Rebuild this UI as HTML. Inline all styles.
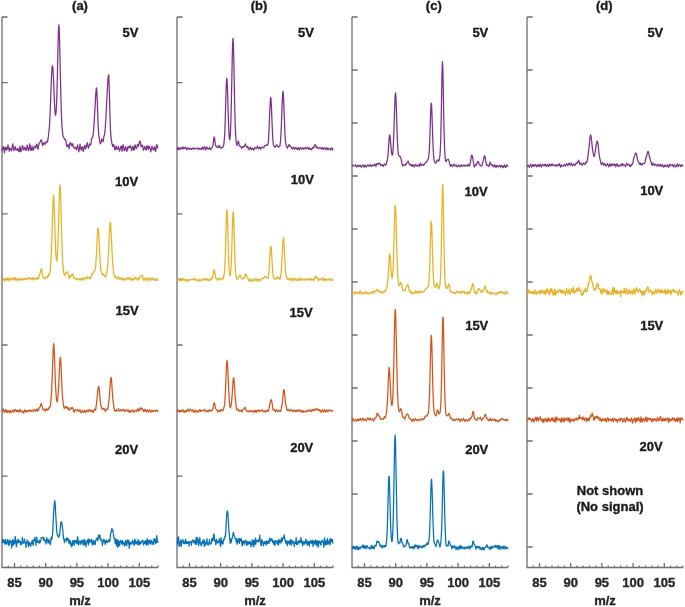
<!DOCTYPE html><html><head><meta charset="utf-8"><style>html,body{margin:0;padding:0;background:#fff;}svg{display:block;}text{font-family:"Liberation Sans",Arial,sans-serif;font-weight:bold;stroke-width:0.35px;paint-order:stroke;}</style></head><body>
<svg width="685" height="607" viewBox="0 0 685 607">
<rect width="685" height="607" fill="#fff"/>
<path d="M2.0 17.0V567.5H158.0 M2.0 17.00h5.6 M2.0 82.60h5.6 M2.0 148.20h5.6 M2.0 213.80h5.6 M2.0 279.40h5.6 M2.0 345.00h5.6 M2.0 410.60h5.6 M2.0 476.20h5.6 M2.0 541.80h5.6 M8.24 567.5v-2.0 M14.48 567.5v-4.6 M20.72 567.5v-2.0 M26.96 567.5v-2.0 M33.20 567.5v-2.0 M39.44 567.5v-2.0 M45.68 567.5v-4.6 M51.92 567.5v-2.0 M58.16 567.5v-2.0 M64.40 567.5v-2.0 M70.64 567.5v-2.0 M76.88 567.5v-4.6 M83.12 567.5v-2.0 M89.36 567.5v-2.0 M95.60 567.5v-2.0 M101.84 567.5v-2.0 M108.08 567.5v-4.6 M114.32 567.5v-2.0 M120.56 567.5v-2.0 M126.80 567.5v-2.0 M133.04 567.5v-2.0 M139.28 567.5v-4.6 M145.52 567.5v-2.0 M151.76 567.5v-2.0 M158.00 567.5v-2.0" fill="none" stroke="#6e6e6e" stroke-width="1.3"/>
<text x="14.48" y="587.3" font-size="13" text-anchor="middle" fill="#262626" stroke="#262626">85</text>
<text x="45.68" y="587.3" font-size="13" text-anchor="middle" fill="#262626" stroke="#262626">90</text>
<text x="76.88" y="587.3" font-size="13" text-anchor="middle" fill="#262626" stroke="#262626">95</text>
<text x="108.08" y="587.3" font-size="13" text-anchor="middle" fill="#262626" stroke="#262626">100</text>
<text x="139.28" y="587.3" font-size="13" text-anchor="middle" fill="#262626" stroke="#262626">105</text>
<text x="80.00" y="605" font-size="13" text-anchor="middle" fill="#262626" stroke="#262626">m/z</text>
<text x="80.00" y="10.3" font-size="13" text-anchor="middle" fill="#1a1a1a" stroke="#1a1a1a">(a)</text>
<path d="M177.0 17.0V567.5H333.0 M177.0 17.00h5.6 M177.0 82.60h5.6 M177.0 148.20h5.6 M177.0 213.80h5.6 M177.0 279.40h5.6 M177.0 345.00h5.6 M177.0 410.60h5.6 M177.0 476.20h5.6 M177.0 541.80h5.6 M183.24 567.5v-2.0 M189.48 567.5v-4.6 M195.72 567.5v-2.0 M201.96 567.5v-2.0 M208.20 567.5v-2.0 M214.44 567.5v-2.0 M220.68 567.5v-4.6 M226.92 567.5v-2.0 M233.16 567.5v-2.0 M239.40 567.5v-2.0 M245.64 567.5v-2.0 M251.88 567.5v-4.6 M258.12 567.5v-2.0 M264.36 567.5v-2.0 M270.60 567.5v-2.0 M276.84 567.5v-2.0 M283.08 567.5v-4.6 M289.32 567.5v-2.0 M295.56 567.5v-2.0 M301.80 567.5v-2.0 M308.04 567.5v-2.0 M314.28 567.5v-4.6 M320.52 567.5v-2.0 M326.76 567.5v-2.0 M333.00 567.5v-2.0" fill="none" stroke="#6e6e6e" stroke-width="1.3"/>
<text x="189.48" y="587.3" font-size="13" text-anchor="middle" fill="#262626" stroke="#262626">85</text>
<text x="220.68" y="587.3" font-size="13" text-anchor="middle" fill="#262626" stroke="#262626">90</text>
<text x="251.88" y="587.3" font-size="13" text-anchor="middle" fill="#262626" stroke="#262626">95</text>
<text x="283.08" y="587.3" font-size="13" text-anchor="middle" fill="#262626" stroke="#262626">100</text>
<text x="314.28" y="587.3" font-size="13" text-anchor="middle" fill="#262626" stroke="#262626">105</text>
<text x="255.00" y="605" font-size="13" text-anchor="middle" fill="#262626" stroke="#262626">m/z</text>
<text x="259.10" y="10.3" font-size="13" text-anchor="middle" fill="#1a1a1a" stroke="#1a1a1a">(b)</text>
<path d="M352.0 17.0V567.5H508.0 M352.0 17.00h5.6 M352.0 70.00h5.6 M352.0 123.00h5.6 M352.0 176.00h5.6 M352.0 229.00h5.6 M352.0 282.00h5.6 M352.0 335.00h5.6 M352.0 388.00h5.6 M352.0 441.00h5.6 M352.0 494.00h5.6 M352.0 547.00h5.6 M358.24 567.5v-2.0 M364.48 567.5v-4.6 M370.72 567.5v-2.0 M376.96 567.5v-2.0 M383.20 567.5v-2.0 M389.44 567.5v-2.0 M395.68 567.5v-4.6 M401.92 567.5v-2.0 M408.16 567.5v-2.0 M414.40 567.5v-2.0 M420.64 567.5v-2.0 M426.88 567.5v-4.6 M433.12 567.5v-2.0 M439.36 567.5v-2.0 M445.60 567.5v-2.0 M451.84 567.5v-2.0 M458.08 567.5v-4.6 M464.32 567.5v-2.0 M470.56 567.5v-2.0 M476.80 567.5v-2.0 M483.04 567.5v-2.0 M489.28 567.5v-4.6 M495.52 567.5v-2.0 M501.76 567.5v-2.0 M508.00 567.5v-2.0" fill="none" stroke="#6e6e6e" stroke-width="1.3"/>
<text x="364.48" y="587.3" font-size="13" text-anchor="middle" fill="#262626" stroke="#262626">85</text>
<text x="395.68" y="587.3" font-size="13" text-anchor="middle" fill="#262626" stroke="#262626">90</text>
<text x="426.88" y="587.3" font-size="13" text-anchor="middle" fill="#262626" stroke="#262626">95</text>
<text x="458.08" y="587.3" font-size="13" text-anchor="middle" fill="#262626" stroke="#262626">100</text>
<text x="489.28" y="587.3" font-size="13" text-anchor="middle" fill="#262626" stroke="#262626">105</text>
<text x="430.00" y="605" font-size="13" text-anchor="middle" fill="#262626" stroke="#262626">m/z</text>
<text x="433.80" y="10.3" font-size="13" text-anchor="middle" fill="#1a1a1a" stroke="#1a1a1a">(c)</text>
<path d="M527.0 17.0V567.5H683.0 M527.0 17.00h5.6 M527.0 70.00h5.6 M527.0 123.00h5.6 M527.0 176.00h5.6 M527.0 229.00h5.6 M527.0 282.00h5.6 M527.0 335.00h5.6 M527.0 388.00h5.6 M527.0 441.00h5.6 M527.0 494.00h5.6 M527.0 547.00h5.6 M533.24 567.5v-2.0 M539.48 567.5v-4.6 M545.72 567.5v-2.0 M551.96 567.5v-2.0 M558.20 567.5v-2.0 M564.44 567.5v-2.0 M570.68 567.5v-4.6 M576.92 567.5v-2.0 M583.16 567.5v-2.0 M589.40 567.5v-2.0 M595.64 567.5v-2.0 M601.88 567.5v-4.6 M608.12 567.5v-2.0 M614.36 567.5v-2.0 M620.60 567.5v-2.0 M626.84 567.5v-2.0 M633.08 567.5v-4.6 M639.32 567.5v-2.0 M645.56 567.5v-2.0 M651.80 567.5v-2.0 M658.04 567.5v-2.0 M664.28 567.5v-4.6 M670.52 567.5v-2.0 M676.76 567.5v-2.0 M683.00 567.5v-2.0" fill="none" stroke="#6e6e6e" stroke-width="1.3"/>
<text x="539.48" y="587.3" font-size="13" text-anchor="middle" fill="#262626" stroke="#262626">85</text>
<text x="570.68" y="587.3" font-size="13" text-anchor="middle" fill="#262626" stroke="#262626">90</text>
<text x="601.88" y="587.3" font-size="13" text-anchor="middle" fill="#262626" stroke="#262626">95</text>
<text x="633.08" y="587.3" font-size="13" text-anchor="middle" fill="#262626" stroke="#262626">100</text>
<text x="664.28" y="587.3" font-size="13" text-anchor="middle" fill="#262626" stroke="#262626">105</text>
<text x="605.00" y="605" font-size="13" text-anchor="middle" fill="#262626" stroke="#262626">m/z</text>
<text x="604.20" y="10.3" font-size="13" text-anchor="middle" fill="#1a1a1a" stroke="#1a1a1a">(d)</text>
<polyline fill="none" stroke="#7E2F8E" stroke-width="1.25" stroke-linejoin="round" points="2.0,151.66 2.4,148.77 2.8,147.79 3.2,146.29 3.6,149.21 4.0,147.93 4.4,152.87 4.8,149.50 5.2,149.12 5.6,147.24 6.0,149.73 6.4,147.70 6.8,150.02 7.2,148.34 7.6,148.06 8.0,144.80 8.4,147.23 8.8,148.49 9.2,151.17 9.6,150.82 10.0,148.25 10.4,148.63 10.8,149.11 11.2,149.48 11.6,150.77 12.0,147.46 12.4,146.20 12.8,143.88 13.2,146.58 13.6,149.40 14.0,150.50 14.4,149.59 14.8,148.11 15.2,146.65 15.6,148.02 16.0,149.77 16.4,150.09 16.8,150.09 17.2,150.23 17.6,148.43 18.0,149.10 18.4,149.89 18.8,151.31 19.2,151.67 19.6,148.63 20.0,146.40 20.4,148.60 20.8,151.56 21.2,151.09 21.6,149.74 22.0,147.75 22.4,145.62 22.8,146.22 23.2,148.29 23.6,149.88 24.0,149.32 24.4,148.30 24.8,147.14 25.2,148.12 25.6,150.05 26.0,150.00 26.4,150.01 26.8,147.65 27.2,145.20 27.6,147.31 28.0,148.35 28.4,150.93 28.8,149.51 29.2,148.44 29.6,143.96 30.0,145.63 30.4,148.17 30.8,150.48 31.2,150.22 31.6,148.87 32.0,145.99 32.4,148.29 32.8,149.99 33.2,150.17 33.6,149.48 34.0,147.52 34.4,146.32 34.8,147.11 35.2,147.68 35.6,147.90 36.0,146.34 36.4,144.41 36.8,144.14 37.2,145.53 37.6,147.89 38.0,149.38 38.4,147.13 38.8,145.00 39.2,142.77 39.6,143.08 40.0,142.14 40.4,141.48 40.8,140.41 41.2,139.80 41.6,140.68 42.0,141.89 42.4,144.66 42.8,145.44 43.2,144.98 43.6,142.93 44.0,142.89 44.4,143.83 44.8,143.18 45.2,144.25 45.6,143.45 46.0,141.51 46.4,141.59 46.8,142.27 47.2,141.29 47.6,141.67 48.0,138.53 48.4,136.38 48.8,132.03 49.2,129.43 49.6,123.67 50.0,116.25 50.4,106.19 50.8,95.75 51.2,84.58 51.6,74.04 52.0,67.97 52.4,65.62 52.8,67.09 53.2,72.83 53.6,82.00 54.0,92.00 54.4,101.41 54.8,109.03 55.2,113.98 55.6,115.34 56.0,112.54 56.4,107.16 56.8,96.76 57.2,83.35 57.6,65.46 58.0,47.00 58.4,31.55 58.8,24.81 59.2,28.26 59.6,41.10 60.0,58.12 60.4,76.37 60.8,93.17 61.2,107.72 61.6,119.13 62.0,126.99 62.4,130.71 62.8,134.75 63.2,136.53 63.6,137.14 64.0,138.00 64.4,139.15 64.8,139.42 65.2,139.94 65.6,139.62 66.0,142.06 66.4,143.80 66.8,146.67 67.2,145.90 67.6,145.90 68.0,144.66 68.4,146.54 68.8,146.77 69.2,148.57 69.6,144.19 70.0,143.27 70.4,142.59 70.8,144.03 71.2,143.64 71.6,145.74 72.0,145.35 72.4,145.85 72.8,143.74 73.2,145.98 73.6,146.80 74.0,147.68 74.4,148.34 74.8,147.77 75.2,147.49 75.6,147.42 76.0,148.00 76.4,149.92 76.8,148.16 77.2,146.68 77.6,144.88 78.0,147.60 78.4,148.80 78.8,151.94 79.2,149.76 79.6,147.75 80.0,144.08 80.4,147.16 80.8,148.31 81.2,150.12 81.6,148.99 82.0,146.79 82.4,146.86 82.8,147.69 83.2,151.45 83.6,150.36 84.0,148.44 84.4,146.77 84.8,145.50 85.2,145.89 85.6,148.83 86.0,147.59 86.4,145.03 86.8,145.29 87.2,142.52 87.6,143.61 88.0,146.83 88.4,148.21 88.8,146.33 89.2,146.36 89.6,143.96 90.0,145.13 90.4,144.28 90.8,144.64 91.2,141.46 91.6,138.66 92.0,138.71 92.4,137.03 92.8,136.41 93.2,134.35 93.6,130.01 94.0,124.55 94.4,117.84 94.8,111.39 95.2,104.60 95.6,97.37 96.0,91.13 96.4,87.98 96.8,89.72 97.2,98.38 97.6,110.78 98.0,121.76 98.4,130.02 98.8,135.59 99.2,137.78 99.6,140.56 100.0,143.00 100.4,143.85 100.8,142.09 101.2,142.12 101.6,138.88 102.0,140.17 102.4,141.05 102.8,140.37 103.2,141.45 103.6,138.61 104.0,135.50 104.4,135.49 104.8,132.36 105.2,128.66 105.6,122.54 106.0,115.90 106.4,107.60 106.8,100.51 107.2,92.32 107.6,85.21 108.0,78.95 108.4,74.80 108.8,75.27 109.2,86.10 109.6,101.45 110.0,116.95 110.4,128.19 110.8,134.89 111.2,138.64 111.6,141.10 112.0,143.65 112.4,145.25 112.8,146.50 113.2,144.52 113.6,144.83 114.0,145.14 114.4,147.44 114.8,149.89 115.2,149.33 115.6,147.35 116.0,146.10 116.4,147.38 116.8,148.94 117.2,149.31 117.6,149.01 118.0,147.59 118.4,146.55 118.8,148.67 119.2,149.27 119.6,151.22 120.0,149.31 120.4,148.08 120.8,146.50 121.2,146.21 121.6,148.69 122.0,151.22 122.4,146.83 122.8,146.06 123.2,144.76 123.6,147.07 124.0,150.37 124.4,150.62 124.8,148.82 125.2,148.77 125.6,146.68 126.0,149.18 126.4,149.51 126.8,151.31 127.2,148.19 127.6,149.80 128.0,146.37 128.4,147.12 128.8,147.41 129.2,147.82 129.6,146.69 130.0,146.56 130.4,145.48 130.8,147.84 131.2,148.30 131.6,150.73 132.0,149.72 132.4,146.80 132.8,146.73 133.2,146.83 133.6,149.37 134.0,150.24 134.4,149.06 134.8,145.61 135.2,144.78 135.6,147.83 136.0,147.89 136.4,148.50 136.8,147.46 137.2,145.68 137.6,144.27 138.0,145.65 138.4,146.26 138.8,144.50 139.2,142.82 139.6,141.43 140.0,141.00 140.4,142.65 140.8,144.53 141.2,146.92 141.6,145.14 142.0,146.23 142.4,145.30 142.8,146.42 143.2,149.32 143.6,150.15 144.0,148.94 144.4,148.18 144.8,146.51 145.2,147.71 145.6,148.85 146.0,150.15 146.4,149.95 146.8,145.90 147.2,146.16 147.6,146.53 148.0,148.36 148.4,149.37 148.8,145.76 149.2,147.87 149.6,146.88 150.0,148.24 150.4,149.37 150.8,151.95 151.2,149.04 151.6,149.06 152.0,146.08 152.4,148.96 152.8,148.19 153.2,149.28 153.6,150.10 154.0,148.94 154.4,146.81 154.8,147.11 155.2,149.45 155.6,151.63 156.0,148.72 156.4,146.64 156.8,144.58 157.2,145.38 157.6,147.30 158.0,148.20"/>
<polyline fill="none" stroke="#EDB120" stroke-width="1.25" stroke-linejoin="round" points="2.0,280.76 2.4,280.52 2.8,279.18 3.2,280.08 3.6,279.12 4.0,279.88 4.4,280.83 4.8,279.48 5.2,278.96 5.6,278.45 6.0,279.54 6.4,280.70 6.8,280.20 7.2,278.92 7.6,278.82 8.0,277.70 8.4,278.86 8.8,280.32 9.2,280.52 9.6,280.00 10.0,278.76 10.4,278.12 10.8,278.99 11.2,279.17 11.6,280.08 12.0,279.51 12.4,278.73 12.8,277.91 13.2,278.37 13.6,279.46 14.0,280.00 14.4,280.21 14.8,277.57 15.2,277.87 15.6,278.69 16.0,279.82 16.4,280.23 16.8,279.12 17.2,278.86 17.6,278.43 18.0,278.96 18.4,280.18 18.8,279.87 19.2,280.54 19.6,279.71 20.0,278.35 20.4,279.38 20.8,279.83 21.2,280.11 21.6,279.97 22.0,279.72 22.4,278.48 22.8,278.79 23.2,279.26 23.6,279.89 24.0,279.60 24.4,278.31 24.8,278.32 25.2,278.98 25.6,278.85 26.0,280.01 26.4,279.64 26.8,279.12 27.2,278.67 27.6,277.94 28.0,279.00 28.4,278.99 28.8,278.07 29.2,278.32 29.6,277.94 30.0,278.00 30.4,279.21 30.8,279.31 31.2,279.12 31.6,278.26 32.0,278.92 32.4,277.71 32.8,279.21 33.2,280.00 33.6,278.41 34.0,278.59 34.4,278.03 34.8,278.88 35.2,279.50 35.6,279.28 36.0,278.14 36.4,278.53 36.8,277.85 37.2,277.82 37.6,278.73 38.0,279.25 38.4,278.30 38.8,276.93 39.2,275.81 39.6,274.07 40.0,273.76 40.4,272.11 40.8,269.96 41.2,269.48 41.6,269.03 42.0,272.17 42.4,274.39 42.8,276.13 43.2,277.33 43.6,277.23 44.0,278.09 44.4,278.54 44.8,278.60 45.2,278.64 45.6,277.91 46.0,277.18 46.4,276.26 46.8,276.61 47.2,277.18 47.6,277.72 48.0,276.59 48.4,275.41 48.8,274.12 49.2,275.08 49.6,273.23 50.0,271.95 50.4,268.68 50.8,263.19 51.2,255.78 51.6,246.14 52.0,234.03 52.4,220.44 52.8,207.09 53.2,198.09 53.6,195.40 54.0,201.45 54.4,212.73 54.8,226.14 55.2,238.71 55.6,248.68 56.0,255.82 56.4,259.65 56.8,261.08 57.2,258.69 57.6,252.33 58.0,242.36 58.4,229.60 58.8,214.75 59.2,200.04 59.6,189.42 60.0,184.68 60.4,189.22 60.8,200.53 61.2,216.02 61.6,231.54 62.0,245.15 62.4,255.39 62.8,262.61 63.2,266.82 63.6,271.18 64.0,273.69 64.4,275.62 64.8,275.01 65.2,274.93 65.6,273.18 66.0,272.54 66.4,272.70 66.8,272.14 67.2,271.78 67.6,272.69 68.0,273.67 68.4,274.99 68.8,276.37 69.2,278.70 69.6,277.41 70.0,277.30 70.4,275.45 70.8,276.44 71.2,276.44 71.6,275.72 72.0,274.51 72.4,274.28 72.8,274.05 73.2,275.16 73.6,277.15 74.0,278.61 74.4,278.37 74.8,277.98 75.2,278.02 75.6,278.92 76.0,279.54 76.4,279.39 76.8,279.16 77.2,278.78 77.6,278.25 78.0,279.13 78.4,279.80 78.8,279.81 79.2,279.41 79.6,278.58 80.0,279.09 80.4,278.95 80.8,279.62 81.2,280.37 81.6,279.22 82.0,278.30 82.4,277.97 82.8,278.70 83.2,279.89 83.6,280.11 84.0,278.63 84.4,278.63 84.8,278.03 85.2,277.87 85.6,278.79 86.0,278.63 86.4,278.66 86.8,277.61 87.2,276.49 87.6,277.22 88.0,278.14 88.4,278.40 88.8,278.39 89.2,278.06 89.6,277.04 90.0,277.67 90.4,278.87 90.8,278.27 91.2,276.60 91.6,275.41 92.0,273.38 92.4,273.79 92.8,273.22 93.2,273.26 93.6,272.32 94.0,271.58 94.4,271.11 94.8,270.75 95.2,269.38 95.6,266.65 96.0,261.67 96.4,254.55 96.8,247.10 97.2,238.49 97.6,231.86 98.0,228.24 98.4,229.20 98.8,234.79 99.2,242.49 99.6,251.07 100.0,258.96 100.4,265.09 100.8,269.21 101.2,271.50 101.6,272.24 102.0,273.51 102.4,274.63 102.8,275.17 103.2,274.92 103.6,273.89 104.0,274.48 104.4,275.51 104.8,276.19 105.2,277.05 105.6,276.89 106.0,275.34 106.4,274.18 106.8,272.69 107.2,270.64 107.6,267.27 108.0,261.44 108.4,254.35 108.8,245.65 109.2,236.98 109.6,228.77 110.0,223.30 110.4,222.03 110.8,225.43 111.2,232.50 111.6,241.53 112.0,250.62 112.4,258.93 112.8,265.00 113.2,269.15 113.6,271.60 114.0,274.83 114.4,275.82 114.8,277.06 115.2,277.62 115.6,277.10 116.0,276.53 116.4,277.40 116.8,277.58 117.2,278.52 117.6,278.81 118.0,278.08 118.4,276.75 118.8,278.61 119.2,278.32 119.6,279.39 120.0,279.18 120.4,278.08 120.8,277.84 121.2,278.55 121.6,279.05 122.0,280.11 122.4,279.50 122.8,278.33 123.2,278.00 123.6,279.12 124.0,279.78 124.4,280.23 124.8,280.13 125.2,279.64 125.6,278.34 126.0,279.21 126.4,278.56 126.8,278.93 127.2,279.14 127.6,278.08 128.0,277.53 128.4,278.46 128.8,278.85 129.2,279.73 129.6,278.22 130.0,277.88 130.4,278.62 130.8,278.29 131.2,278.48 131.6,280.51 132.0,280.11 132.4,279.92 132.8,278.75 133.2,278.71 133.6,279.76 134.0,279.73 134.4,277.92 134.8,278.23 135.2,277.21 135.6,278.56 136.0,278.80 136.4,280.11 136.8,279.19 137.2,278.65 137.6,277.67 138.0,278.34 138.4,279.26 138.8,280.07 139.2,279.00 139.6,278.28 140.0,276.50 140.4,276.07 140.8,276.08 141.2,275.34 141.6,275.33 142.0,275.34 142.4,276.08 142.8,278.12 143.2,278.92 143.6,280.44 144.0,279.00 144.4,278.28 144.8,278.31 145.2,278.32 145.6,280.56 146.0,280.60 146.4,278.85 146.8,278.59 147.2,277.81 147.6,278.94 148.0,279.49 148.4,280.55 148.8,280.24 149.2,278.94 149.6,277.92 150.0,279.06 150.4,279.26 150.8,280.33 151.2,279.09 151.6,278.76 152.0,277.84 152.4,278.26 152.8,278.81 153.2,279.97 153.6,280.18 154.0,279.04 154.4,278.24 154.8,279.50 155.2,280.15 155.6,280.37 156.0,280.43 156.4,280.22 156.8,278.67 157.2,278.67 157.6,279.70 158.0,280.72"/>
<polyline fill="none" stroke="#D95319" stroke-width="1.25" stroke-linejoin="round" points="2.0,411.91 2.4,410.74 2.8,410.11 3.2,408.92 3.6,410.59 4.0,411.48 4.4,412.39 4.8,411.31 5.2,410.68 5.6,409.67 6.0,410.08 6.4,411.75 6.8,412.53 7.2,412.47 7.6,411.35 8.0,410.65 8.4,411.09 8.8,411.17 9.2,412.73 9.6,411.19 10.0,410.55 10.4,410.40 10.8,411.93 11.2,412.21 11.6,412.39 12.0,411.65 12.4,411.30 12.8,410.09 13.2,410.41 13.6,411.17 14.0,412.08 14.4,411.81 14.8,409.82 15.2,409.49 15.6,410.01 16.0,410.05 16.4,411.37 16.8,410.91 17.2,411.25 17.6,410.10 18.0,410.23 18.4,411.84 18.8,412.13 19.2,410.60 19.6,410.18 20.0,409.42 20.4,410.38 20.8,411.87 21.2,412.04 21.6,412.10 22.0,411.75 22.4,410.72 22.8,411.53 23.2,412.26 23.6,413.19 24.0,411.40 24.4,411.50 24.8,409.75 25.2,410.74 25.6,410.67 26.0,412.29 26.4,411.92 26.8,410.78 27.2,411.01 27.6,410.46 28.0,411.21 28.4,411.65 28.8,410.44 29.2,410.41 29.6,410.42 30.0,409.75 30.4,411.04 30.8,411.12 31.2,411.56 31.6,410.73 32.0,410.46 32.4,410.86 32.8,411.05 33.2,410.68 33.6,411.12 34.0,409.41 34.4,409.53 34.8,410.29 35.2,410.34 35.6,411.31 36.0,411.11 36.4,409.99 36.8,408.99 37.2,408.87 37.6,410.34 38.0,411.14 38.4,410.25 38.8,408.96 39.2,408.09 39.6,407.43 40.0,406.91 40.4,406.28 40.8,404.20 41.2,403.59 41.6,404.49 42.0,405.94 42.4,407.17 42.8,409.32 43.2,409.78 43.6,409.91 44.0,409.13 44.4,409.47 44.8,409.94 45.2,410.98 45.6,410.16 46.0,409.14 46.4,408.56 46.8,409.15 47.2,410.20 47.6,410.23 48.0,409.78 48.4,408.95 48.8,407.82 49.2,407.38 49.6,407.98 50.0,406.85 50.4,405.29 50.8,402.05 51.2,397.34 51.6,391.48 52.0,382.65 52.4,371.65 52.8,359.69 53.2,349.23 53.6,343.74 54.0,345.69 54.4,354.06 54.8,365.24 55.2,376.33 55.6,386.13 56.0,393.09 56.4,398.18 56.8,401.35 57.2,401.81 57.6,399.55 58.0,395.76 58.4,389.93 58.8,382.53 59.2,373.89 59.6,365.02 60.0,358.70 60.4,357.14 60.8,361.19 61.2,369.67 61.6,379.29 62.0,388.18 62.4,395.44 62.8,399.78 63.2,403.00 63.6,405.68 64.0,407.64 64.4,408.47 64.8,408.02 65.2,407.06 65.6,406.46 66.0,406.30 66.4,407.19 66.8,407.96 67.2,407.47 67.6,408.78 68.0,407.65 68.4,408.08 68.8,410.04 69.2,409.88 69.6,409.87 70.0,409.32 70.4,407.87 70.8,408.12 71.2,408.21 71.6,408.68 72.0,407.66 72.4,407.61 72.8,407.90 73.2,409.65 73.6,410.76 74.0,412.34 74.4,411.41 74.8,410.26 75.2,409.61 75.6,409.30 76.0,410.17 76.4,410.64 76.8,410.71 77.2,410.46 77.6,409.59 78.0,410.23 78.4,410.47 78.8,411.63 79.2,411.02 79.6,410.42 80.0,409.35 80.4,411.54 80.8,412.28 81.2,412.72 81.6,411.88 82.0,411.17 82.4,410.53 82.8,410.96 83.2,411.75 83.6,412.55 84.0,412.14 84.4,411.40 84.8,410.19 85.2,411.18 85.6,411.61 86.0,412.24 86.4,412.30 86.8,410.45 87.2,410.56 87.6,410.13 88.0,410.89 88.4,411.74 88.8,410.65 89.2,410.14 89.6,409.24 90.0,409.85 90.4,410.71 90.8,411.30 91.2,411.84 91.6,410.77 92.0,411.12 92.4,410.12 92.8,411.80 93.2,412.52 93.6,411.11 94.0,410.54 94.4,409.25 94.8,409.24 95.2,409.63 95.6,410.16 96.0,407.19 96.4,404.42 96.8,400.68 97.2,397.23 97.6,392.84 98.0,389.21 98.4,386.85 98.8,386.42 99.2,388.67 99.6,393.09 100.0,398.01 100.4,402.12 100.8,405.26 101.2,406.66 101.6,407.16 102.0,408.87 102.4,408.20 102.8,409.44 103.2,409.41 103.6,408.61 104.0,408.58 104.4,408.94 104.8,409.50 105.2,411.34 105.6,410.09 106.0,409.32 106.4,409.23 106.8,409.13 107.2,409.75 107.6,409.37 108.0,408.04 108.4,404.64 108.8,401.89 109.2,397.86 109.6,392.55 110.0,387.19 110.4,381.16 110.8,377.86 111.2,377.52 111.6,381.24 112.0,386.93 112.4,393.42 112.8,397.94 113.2,402.25 113.6,404.63 114.0,407.62 114.4,409.53 114.8,411.25 115.2,410.52 115.6,411.01 116.0,410.52 116.4,409.98 116.8,410.44 117.2,410.95 117.6,410.63 118.0,410.26 118.4,408.53 118.8,409.59 119.2,410.28 119.6,411.09 120.0,410.41 120.4,410.64 120.8,409.44 121.2,410.87 121.6,411.01 122.0,410.62 122.4,409.98 122.8,409.51 123.2,409.72 123.6,409.62 124.0,410.16 124.4,411.52 124.8,410.95 125.2,409.78 125.6,409.95 126.0,410.03 126.4,410.81 126.8,411.04 127.2,411.08 127.6,410.72 128.0,409.50 128.4,411.16 128.8,410.92 129.2,412.20 129.6,411.03 130.0,411.83 130.4,410.52 130.8,411.33 131.2,411.96 131.6,411.67 132.0,410.45 132.4,410.41 132.8,410.09 133.2,410.57 133.6,411.68 134.0,412.57 134.4,410.85 134.8,410.78 135.2,410.60 135.6,410.26 136.0,410.35 136.4,411.78 136.8,410.82 137.2,410.31 137.6,408.93 138.0,409.85 138.4,409.47 138.8,411.22 139.2,410.90 139.6,410.08 140.0,408.20 140.4,408.85 140.8,407.75 141.2,409.28 141.6,408.98 142.0,408.55 142.4,408.90 142.8,409.82 143.2,411.07 143.6,411.64 144.0,411.06 144.4,409.57 144.8,409.28 145.2,410.27 145.6,411.27 146.0,411.76 146.4,411.73 146.8,410.08 147.2,409.62 147.6,410.51 148.0,411.04 148.4,412.07 148.8,410.91 149.2,410.98 149.6,409.57 150.0,410.81 150.4,411.06 150.8,412.41 151.2,410.80 151.6,411.05 152.0,410.08 152.4,410.82 152.8,411.71 153.2,411.33 153.6,410.82 154.0,410.57 154.4,410.69 154.8,410.36 155.2,411.63 155.6,411.46 156.0,410.74 156.4,410.29 156.8,409.89 157.2,410.32 157.6,411.26 158.0,412.30"/>
<polyline fill="none" stroke="#0072BD" stroke-width="1.25" stroke-linejoin="round" points="2.0,542.89 2.4,542.89 2.8,539.44 3.2,541.73 3.6,540.89 4.0,539.92 4.4,542.69 4.8,544.24 5.2,543.07 5.6,539.71 6.0,543.51 6.4,542.81 6.8,544.26 7.2,543.24 7.6,539.72 8.0,541.60 8.4,540.75 8.8,545.51 9.2,544.96 9.6,542.75 10.0,540.00 10.4,541.03 10.8,542.29 11.2,540.83 11.6,547.92 12.0,543.76 12.4,545.20 12.8,539.28 13.2,545.14 13.6,540.67 14.0,542.81 14.4,543.83 14.8,541.79 15.2,536.31 15.6,539.31 16.0,543.60 16.4,546.70 16.8,543.62 17.2,540.54 17.6,541.54 18.0,539.01 18.4,542.91 18.8,540.49 19.2,542.22 19.6,541.33 20.0,542.35 20.4,541.32 20.8,544.97 21.2,543.37 21.6,544.23 22.0,543.15 22.4,537.47 22.8,541.91 23.2,543.00 23.6,542.62 24.0,543.24 24.4,539.11 24.8,541.45 25.2,542.15 25.6,542.59 26.0,547.40 26.4,542.97 26.8,541.93 27.2,540.00 27.6,542.90 28.0,541.63 28.4,546.54 28.8,542.08 29.2,542.56 29.6,544.97 30.0,544.32 30.4,543.49 30.8,546.25 31.2,542.82 31.6,543.37 32.0,540.92 32.4,540.18 32.8,543.49 33.2,545.35 33.6,541.93 34.0,539.54 34.4,539.56 34.8,537.03 35.2,540.99 35.6,540.96 36.0,545.51 36.4,539.88 36.8,537.06 37.2,542.21 37.6,541.22 38.0,542.56 38.4,542.22 38.8,541.71 39.2,540.12 39.6,543.17 40.0,542.95 40.4,541.52 40.8,540.58 41.2,537.68 41.6,537.70 42.0,537.70 42.4,537.38 42.8,537.99 43.2,537.26 43.6,540.26 44.0,537.86 44.4,539.62 44.8,540.18 45.2,541.93 45.6,540.76 46.0,544.03 46.4,540.48 46.8,537.73 47.2,540.68 47.6,539.73 48.0,542.88 48.4,543.00 48.8,539.26 49.2,542.11 49.6,541.74 50.0,543.70 50.4,544.74 50.8,540.04 51.2,537.15 51.6,539.71 52.0,538.04 52.4,535.50 52.8,530.53 53.2,522.30 53.6,513.66 54.0,508.34 54.4,502.12 54.8,500.62 55.2,504.05 55.6,512.09 56.0,518.86 56.4,526.00 56.8,532.13 57.2,534.37 57.6,535.34 58.0,536.26 58.4,535.69 58.8,537.34 59.2,536.05 59.6,535.50 60.0,530.89 60.4,526.76 60.8,523.09 61.2,521.56 61.6,522.08 62.0,523.94 62.4,527.54 62.8,530.38 63.2,534.91 63.6,539.08 64.0,538.65 64.4,542.65 64.8,540.40 65.2,539.78 65.6,539.28 66.0,538.71 66.4,541.10 66.8,537.85 67.2,538.81 67.6,539.71 68.0,538.28 68.4,541.92 68.8,539.96 69.2,543.73 69.6,540.05 70.0,541.15 70.4,541.12 70.8,545.25 71.2,544.46 71.6,546.63 72.0,542.98 72.4,545.66 72.8,540.47 73.2,541.47 73.6,540.69 74.0,544.50 74.4,544.97 74.8,540.95 75.2,540.33 75.6,541.18 76.0,542.36 76.4,542.79 76.8,540.24 77.2,543.90 77.6,536.73 78.0,539.44 78.4,542.69 78.8,544.96 79.2,542.05 79.6,541.17 80.0,540.98 80.4,541.40 80.8,544.36 81.2,542.82 81.6,540.72 82.0,540.47 82.4,540.37 82.8,543.45 83.2,545.16 83.6,542.59 84.0,539.93 84.4,539.32 84.8,544.90 85.2,541.08 85.6,543.40 86.0,546.81 86.4,541.51 86.8,541.66 87.2,540.16 87.6,539.85 88.0,543.81 88.4,544.87 88.8,538.76 89.2,543.04 89.6,540.02 90.0,541.36 90.4,541.94 90.8,539.82 91.2,540.93 91.6,539.12 92.0,543.78 92.4,545.01 92.8,542.05 93.2,540.55 93.6,544.04 94.0,540.90 94.4,543.50 94.8,544.43 95.2,544.40 95.6,541.25 96.0,539.40 96.4,539.12 96.8,539.06 97.2,537.86 97.6,540.81 98.0,539.48 98.4,536.71 98.8,534.93 99.2,535.66 99.6,537.94 100.0,535.18 100.4,540.09 100.8,539.81 101.2,539.31 101.6,539.90 102.0,541.64 102.4,545.40 102.8,542.84 103.2,541.21 103.6,539.02 104.0,541.78 104.4,539.99 104.8,542.03 105.2,544.37 105.6,542.34 106.0,540.62 106.4,539.99 106.8,542.29 107.2,541.16 107.6,542.16 108.0,541.90 108.4,540.01 108.8,540.43 109.2,539.69 109.6,541.75 110.0,540.02 110.4,534.45 110.8,533.61 111.2,532.13 111.6,529.32 112.0,528.62 112.4,530.91 112.8,530.00 113.2,532.86 113.6,535.10 114.0,538.21 114.4,537.77 114.8,539.21 115.2,543.45 115.6,539.12 116.0,539.64 116.4,545.34 116.8,541.56 117.2,539.68 117.6,547.39 118.0,543.10 118.4,540.74 118.8,545.98 119.2,541.94 119.6,545.73 120.0,542.03 120.4,540.30 120.8,540.62 121.2,541.96 121.6,543.55 122.0,544.35 122.4,540.55 122.8,540.73 123.2,543.97 123.6,542.68 124.0,542.90 124.4,546.15 124.8,545.75 125.2,544.80 125.6,540.55 126.0,541.45 126.4,544.12 126.8,545.65 127.2,540.25 127.6,540.54 128.0,539.93 128.4,543.25 128.8,540.52 129.2,548.30 129.6,542.51 130.0,542.43 130.4,544.35 130.8,542.61 131.2,543.96 131.6,543.39 132.0,543.84 132.4,540.39 132.8,541.47 133.2,542.42 133.6,541.35 134.0,545.71 134.4,544.04 134.8,539.15 135.2,543.08 135.6,540.60 136.0,543.87 136.4,541.94 136.8,541.94 137.2,542.62 137.6,544.71 138.0,539.47 138.4,542.49 138.8,543.36 139.2,544.82 139.6,541.25 140.0,541.27 140.4,543.86 140.8,543.85 141.2,542.81 141.6,541.78 142.0,541.08 142.4,540.78 142.8,540.11 143.2,542.69 143.6,544.98 144.0,542.29 144.4,541.44 144.8,541.95 145.2,543.68 145.6,540.64 146.0,542.10 146.4,545.13 146.8,541.71 147.2,538.66 147.6,541.63 148.0,545.03 148.4,541.86 148.8,540.34 149.2,540.73 149.6,543.17 150.0,539.80 150.4,542.64 150.8,544.24 151.2,542.86 151.6,540.47 152.0,541.63 152.4,541.95 152.8,544.25 153.2,544.58 153.6,543.10 154.0,538.68 154.4,541.91 154.8,541.58 155.2,539.09 155.6,543.77 156.0,543.12 156.4,541.12 156.8,535.69 157.2,539.93 157.6,540.68 158.0,543.04"/>
<polyline fill="none" stroke="#7E2F8E" stroke-width="1.25" stroke-linejoin="round" points="177.0,149.67 177.4,148.77 177.8,149.16 178.2,147.61 178.6,148.44 179.0,149.66 179.4,149.42 179.8,149.07 180.2,148.84 180.6,148.13 181.0,148.12 181.4,148.76 181.8,148.98 182.2,148.69 182.6,147.23 183.0,146.95 183.4,148.08 183.8,148.82 184.2,148.11 184.6,148.40 185.0,147.38 185.4,147.06 185.8,147.76 186.2,148.66 186.6,149.91 187.0,149.32 187.4,148.53 187.8,147.78 188.2,148.33 188.6,148.73 189.0,149.49 189.4,148.66 189.8,148.55 190.2,148.18 190.6,148.55 191.0,149.01 191.4,149.33 191.8,149.31 192.2,148.31 192.6,148.39 193.0,148.12 193.4,148.54 193.8,149.29 194.2,148.87 194.6,148.31 195.0,148.09 195.4,148.46 195.8,148.64 196.2,148.76 196.6,148.45 197.0,148.68 197.4,147.98 197.8,148.02 198.2,148.78 198.6,149.31 199.0,149.34 199.4,148.30 199.8,148.58 200.2,148.64 200.6,149.05 201.0,149.40 201.4,149.22 201.8,148.05 202.2,147.10 202.6,148.15 203.0,148.55 203.4,149.63 203.8,148.42 204.2,146.70 204.6,147.31 205.0,147.17 205.4,149.19 205.8,150.04 206.2,148.61 206.6,147.69 207.0,146.95 207.4,148.31 207.8,148.50 208.2,148.98 208.6,148.53 209.0,148.79 209.4,147.58 209.8,148.40 210.2,149.05 210.6,149.75 211.0,149.28 211.4,148.12 211.8,147.65 212.2,147.44 212.6,146.78 213.0,145.62 213.4,141.68 213.8,138.54 214.2,136.76 214.6,138.22 215.0,141.57 215.4,144.48 215.8,145.88 216.2,146.59 216.6,146.33 217.0,147.16 217.4,147.59 217.8,147.48 218.2,147.41 218.6,146.39 219.0,145.64 219.4,145.45 219.8,147.30 220.2,147.14 220.6,148.03 221.0,147.78 221.4,147.31 221.8,148.01 222.2,147.82 222.6,147.26 223.0,146.73 223.4,146.01 223.8,144.57 224.2,140.93 224.6,136.05 225.0,127.52 225.4,114.79 225.8,100.16 226.2,86.59 226.6,78.49 227.0,78.69 227.4,86.97 227.8,99.65 228.2,113.57 228.6,125.53 229.0,133.94 229.4,138.58 229.8,139.76 230.2,136.35 230.6,129.22 231.0,117.08 231.4,100.42 231.8,80.14 232.2,60.01 232.6,44.38 233.0,38.36 233.4,44.08 233.8,59.86 234.2,80.32 234.6,100.86 235.0,118.13 235.4,130.19 235.8,137.69 236.2,142.13 236.6,144.27 237.0,145.70 237.4,144.06 237.8,142.02 238.2,141.20 238.6,141.77 239.0,143.38 239.4,145.88 239.8,146.14 240.2,146.08 240.6,146.38 241.0,146.78 241.4,147.79 241.8,148.26 242.2,147.77 242.6,146.85 243.0,146.51 243.4,146.58 243.8,147.13 244.2,146.84 244.6,145.53 245.0,145.00 245.4,143.91 245.8,145.02 246.2,145.74 246.6,147.09 247.0,147.34 247.4,147.43 247.8,146.48 248.2,148.54 248.6,148.50 249.0,149.73 249.4,148.50 249.8,147.98 250.2,147.27 250.6,147.64 251.0,148.66 251.4,149.66 251.8,148.94 252.2,148.23 252.6,148.03 253.0,148.88 253.4,149.70 253.8,150.00 254.2,149.03 254.6,147.75 255.0,147.59 255.4,147.61 255.8,147.89 256.2,148.72 256.6,147.93 257.0,147.27 257.4,146.12 257.8,147.02 258.2,147.39 258.6,148.84 259.0,148.17 259.4,147.89 259.8,147.00 260.2,147.59 260.6,149.18 261.0,148.68 261.4,147.86 261.8,147.36 262.2,147.04 262.6,147.09 263.0,147.48 263.4,147.68 263.8,147.99 264.2,146.55 264.6,145.54 265.0,145.72 265.4,145.30 265.8,145.36 266.2,145.34 266.6,144.72 267.0,144.85 267.4,145.19 267.8,144.83 268.2,143.14 268.6,138.15 269.0,130.61 269.4,120.89 269.8,110.69 270.2,101.91 270.6,97.31 271.0,98.75 271.4,105.58 271.8,115.87 272.2,125.99 272.6,134.71 273.0,141.24 273.4,144.57 273.8,145.98 274.2,146.02 274.6,146.86 275.0,147.12 275.4,146.84 275.8,146.43 276.2,145.34 276.6,144.84 277.0,144.96 277.4,145.96 277.8,146.84 278.2,147.05 278.6,147.15 279.0,146.70 279.4,146.52 279.8,146.39 280.2,143.94 280.6,139.88 281.0,133.55 281.4,124.36 281.8,114.04 282.2,103.08 282.6,94.81 283.0,91.42 283.4,94.48 283.8,102.89 284.2,114.08 284.6,125.28 285.0,134.63 285.4,140.58 285.8,143.45 286.2,145.07 286.6,147.09 287.0,147.02 287.4,148.11 287.8,147.02 288.2,146.51 288.6,144.91 289.0,145.13 289.4,144.81 289.8,146.16 290.2,146.61 290.6,145.96 291.0,146.89 291.4,147.25 291.8,148.38 292.2,148.26 292.6,149.08 293.0,147.80 293.4,147.26 293.8,147.56 294.2,148.14 294.6,149.33 295.0,148.21 295.4,148.23 295.8,147.45 296.2,148.16 296.6,148.40 297.0,149.25 297.4,149.48 297.8,148.23 298.2,147.67 298.6,147.98 299.0,149.20 299.4,149.99 299.8,148.21 300.2,147.53 300.6,147.92 301.0,147.83 301.4,148.33 301.8,149.20 302.2,148.94 302.6,148.42 303.0,147.63 303.4,149.00 303.8,148.78 304.2,148.94 304.6,148.42 305.0,147.93 305.4,147.18 305.8,147.98 306.2,148.87 306.6,148.28 307.0,148.37 307.4,148.22 307.8,147.37 308.2,147.56 308.6,148.24 309.0,149.55 309.4,148.72 309.8,148.27 310.2,148.75 310.6,148.59 311.0,149.57 311.4,149.87 311.8,149.21 312.2,148.10 312.6,147.33 313.0,148.22 313.4,147.44 313.8,147.83 314.2,146.24 314.6,145.46 315.0,144.61 315.4,144.59 315.8,146.30 316.2,147.05 316.6,147.55 317.0,146.73 317.4,147.09 317.8,148.27 318.2,148.14 318.6,148.42 319.0,148.55 319.4,148.12 319.8,147.65 320.2,148.02 320.6,148.17 321.0,148.86 321.4,148.12 321.8,147.50 322.2,147.65 322.6,147.93 323.0,149.60 323.4,149.25 323.8,148.49 324.2,147.97 324.6,147.70 325.0,147.95 325.4,148.33 325.8,149.95 326.2,148.33 326.6,148.78 327.0,147.80 327.4,148.06 327.8,149.74 328.2,149.74 328.6,148.84 329.0,148.58 329.4,148.35 329.8,148.68 330.2,149.25 330.6,150.09 331.0,148.98 331.4,148.54 331.8,147.88 332.2,148.08 332.6,149.20 333.0,150.44"/>
<polyline fill="none" stroke="#EDB120" stroke-width="1.25" stroke-linejoin="round" points="177.0,280.04 177.4,279.90 177.8,279.25 178.2,278.40 178.6,278.45 179.0,280.29 179.4,280.98 179.8,279.44 180.2,280.01 180.6,278.70 181.0,280.47 181.4,280.37 181.8,280.63 182.2,280.40 182.6,279.19 183.0,278.41 183.4,279.03 183.8,279.62 184.2,280.63 184.6,280.23 185.0,279.61 185.4,279.67 185.8,279.32 186.2,280.36 186.6,281.49 187.0,280.18 187.4,280.57 187.8,279.66 188.2,279.82 188.6,280.56 189.0,280.61 189.4,279.64 189.8,279.84 190.2,279.27 190.6,279.40 191.0,279.81 191.4,279.51 191.8,279.51 192.2,279.17 192.6,278.95 193.0,279.74 193.4,279.45 193.8,279.76 194.2,279.97 194.6,279.14 195.0,278.26 195.4,279.78 195.8,279.66 196.2,280.45 196.6,279.87 197.0,279.96 197.4,279.76 197.8,279.85 198.2,280.69 198.6,280.94 199.0,281.28 199.4,280.35 199.8,278.98 200.2,279.92 200.6,280.59 201.0,280.89 201.4,279.99 201.8,279.67 202.2,279.40 202.6,279.59 203.0,279.42 203.4,280.24 203.8,279.20 204.2,278.29 204.6,278.61 205.0,279.24 205.4,279.41 205.8,280.17 206.2,279.93 206.6,279.15 207.0,278.56 207.4,279.50 207.8,279.73 208.2,280.95 208.6,280.33 209.0,279.81 209.4,279.47 209.8,278.82 210.2,280.27 210.6,280.17 211.0,279.85 211.4,278.82 211.8,277.53 212.2,278.32 212.6,277.30 213.0,276.35 213.4,273.16 213.8,270.68 214.2,269.58 214.6,271.26 215.0,273.58 215.4,276.39 215.8,278.41 216.2,278.56 216.6,278.44 217.0,278.90 217.4,279.83 217.8,280.28 218.2,279.40 218.6,278.35 219.0,278.35 219.4,279.05 219.8,279.47 220.2,279.89 220.6,279.11 221.0,278.57 221.4,278.44 221.8,278.51 222.2,278.33 222.6,279.46 223.0,278.22 223.4,278.12 223.8,275.83 224.2,274.37 224.6,270.62 225.0,263.35 225.4,251.55 225.8,236.95 226.2,222.13 226.6,211.83 227.0,209.67 227.4,216.56 227.8,229.48 228.2,244.12 228.6,256.94 229.0,266.59 229.4,272.69 229.8,275.92 230.2,275.41 230.6,273.01 231.0,267.98 231.4,259.97 231.8,248.30 232.2,234.22 232.6,220.37 233.0,212.07 233.4,211.93 233.8,220.38 234.2,234.71 234.6,249.16 235.0,261.33 235.4,269.08 235.8,273.75 236.2,277.12 236.6,278.47 237.0,279.51 237.4,279.34 237.8,279.04 238.2,277.83 238.6,277.41 239.0,276.38 239.4,275.87 239.8,275.38 240.2,275.43 240.6,275.63 241.0,277.52 241.4,278.26 241.8,278.99 242.2,279.03 242.6,278.51 243.0,278.28 243.4,278.51 243.8,278.49 244.2,278.49 244.6,276.64 245.0,274.95 245.4,273.85 245.8,273.78 246.2,274.49 246.6,276.08 247.0,276.77 247.4,277.50 247.8,277.34 248.2,279.18 248.6,279.82 249.0,281.00 249.4,280.69 249.8,280.02 250.2,279.08 250.6,279.59 251.0,280.84 251.4,281.27 251.8,279.85 252.2,279.35 252.6,279.46 253.0,279.57 253.4,280.84 253.8,280.94 254.2,280.47 254.6,279.48 255.0,278.68 255.4,278.86 255.8,278.93 256.2,280.82 256.6,280.25 257.0,279.38 257.4,279.57 257.8,279.32 258.2,281.05 258.6,281.24 259.0,281.00 259.4,279.07 259.8,279.42 260.2,279.76 260.6,280.08 261.0,280.21 261.4,279.96 261.8,279.23 262.2,278.18 262.6,278.17 263.0,278.40 263.4,278.56 263.8,278.18 264.2,277.28 264.6,276.65 265.0,276.54 265.4,276.52 265.8,277.59 266.2,277.34 266.6,277.48 267.0,277.73 267.4,278.04 267.8,278.35 268.2,278.19 268.6,275.40 269.0,270.91 269.4,264.28 269.8,257.39 270.2,250.83 270.6,246.84 271.0,246.43 271.4,250.18 271.8,256.96 272.2,263.95 272.6,270.39 273.0,275.18 273.4,277.06 273.8,278.08 274.2,278.15 274.6,278.86 275.0,279.40 275.4,279.52 275.8,278.80 276.2,278.75 276.6,277.47 277.0,277.99 277.4,277.92 277.8,278.94 278.2,277.66 278.6,276.94 279.0,277.12 279.4,278.35 279.8,279.08 280.2,279.02 280.6,276.83 281.0,273.91 281.4,268.45 281.8,262.43 282.2,254.66 282.6,246.92 283.0,240.48 283.4,237.76 283.8,240.05 284.2,246.41 284.6,254.73 285.0,262.96 285.4,269.51 285.8,273.45 286.2,275.77 286.6,277.75 287.0,278.77 287.4,279.11 287.8,279.68 288.2,278.63 288.6,278.24 289.0,278.78 289.4,279.62 289.8,279.95 290.2,279.71 290.6,279.71 291.0,278.29 291.4,278.63 291.8,280.41 292.2,280.68 292.6,279.97 293.0,279.18 293.4,278.06 293.8,278.98 294.2,279.08 294.6,280.45 295.0,279.93 295.4,278.89 295.8,278.49 296.2,279.38 296.6,280.21 297.0,280.63 297.4,280.51 297.8,279.49 298.2,278.68 298.6,278.35 299.0,279.53 299.4,280.56 299.8,279.64 300.2,279.16 300.6,278.13 301.0,278.67 301.4,279.54 301.8,280.16 302.2,279.47 302.6,279.06 303.0,278.97 303.4,279.35 303.8,279.99 304.2,280.38 304.6,279.68 305.0,278.95 305.4,279.15 305.8,279.03 306.2,279.78 306.6,279.84 307.0,279.12 307.4,278.77 307.8,278.67 308.2,278.88 308.6,280.06 309.0,280.05 309.4,279.51 309.8,279.75 310.2,278.56 310.6,278.86 311.0,280.35 311.4,279.96 311.8,279.46 312.2,278.97 312.6,279.30 313.0,280.10 313.4,279.47 313.8,280.67 314.2,279.62 314.6,278.35 315.0,276.35 315.4,276.58 315.8,277.25 316.2,277.73 316.6,277.13 317.0,277.77 317.4,277.60 317.8,279.11 318.2,278.62 318.6,280.62 319.0,280.10 319.4,280.00 319.8,278.77 320.2,279.41 320.6,279.35 321.0,280.05 321.4,279.13 321.8,278.92 322.2,277.93 322.6,277.74 323.0,279.53 323.4,280.49 323.8,280.30 324.2,279.56 324.6,278.33 325.0,279.26 325.4,280.50 325.8,280.52 326.2,280.16 326.6,279.05 327.0,279.15 327.4,279.75 327.8,279.96 328.2,280.19 328.6,279.68 329.0,279.13 329.4,278.44 329.8,279.48 330.2,279.70 330.6,280.61 331.0,280.18 331.4,280.23 331.8,278.86 332.2,279.68 332.6,280.27 333.0,279.78"/>
<polyline fill="none" stroke="#D95319" stroke-width="1.25" stroke-linejoin="round" points="177.0,412.25 177.4,410.80 177.8,410.35 178.2,409.94 178.6,410.27 179.0,411.35 179.4,412.10 179.8,411.06 180.2,411.54 180.6,410.79 181.0,410.63 181.4,411.09 181.8,411.67 182.2,410.88 182.6,410.43 183.0,409.58 183.4,411.09 183.8,411.71 184.2,412.50 184.6,411.19 185.0,411.61 185.4,410.33 185.8,410.62 186.2,412.00 186.6,411.77 187.0,410.60 187.4,410.28 187.8,408.90 188.2,410.57 188.6,410.57 189.0,411.04 189.4,411.03 189.8,409.41 190.2,409.54 190.6,409.12 191.0,410.15 191.4,410.52 191.8,411.04 192.2,410.74 192.6,409.59 193.0,410.91 193.4,411.41 193.8,412.50 194.2,411.46 194.6,410.54 195.0,409.92 195.4,411.08 195.8,412.15 196.2,411.85 196.6,411.23 197.0,411.77 197.4,410.79 197.8,411.24 198.2,411.75 198.6,412.03 199.0,411.13 199.4,409.85 199.8,409.64 200.2,410.04 200.6,411.18 201.0,411.40 201.4,410.29 201.8,410.43 202.2,410.56 202.6,410.27 203.0,410.49 203.4,410.74 203.8,410.27 204.2,410.03 204.6,409.22 205.0,410.81 205.4,410.85 205.8,411.70 206.2,411.75 206.6,411.32 207.0,410.22 207.4,410.94 207.8,411.59 208.2,411.77 208.6,410.44 209.0,410.56 209.4,409.89 209.8,410.32 210.2,410.46 210.6,411.33 211.0,410.74 211.4,410.31 211.8,410.19 212.2,410.26 212.6,409.46 213.0,408.33 213.4,406.02 213.8,403.85 214.2,402.77 214.6,403.39 215.0,405.23 215.4,407.97 215.8,408.86 216.2,409.26 216.6,409.52 217.0,410.26 217.4,411.38 217.8,411.98 218.2,410.79 218.6,410.93 219.0,410.00 219.4,411.03 219.8,410.89 220.2,411.73 220.6,410.40 221.0,409.89 221.4,409.53 221.8,410.38 222.2,410.81 222.6,410.77 223.0,410.42 223.4,409.33 223.8,407.74 224.2,406.63 224.6,404.76 225.0,399.67 225.4,392.02 225.8,382.77 226.2,372.57 226.6,364.36 227.0,360.36 227.4,361.96 227.8,368.41 228.2,377.83 228.6,387.37 229.0,395.73 229.4,402.08 229.8,406.19 230.2,407.86 230.6,407.34 231.0,405.62 231.4,403.94 231.8,399.66 232.2,394.03 232.6,387.67 233.0,381.44 233.4,377.85 233.8,377.95 234.2,381.72 234.6,387.91 235.0,394.33 235.4,399.83 235.8,403.54 236.2,406.82 236.6,408.45 237.0,410.26 237.4,409.37 237.8,409.43 238.2,409.20 238.6,410.10 239.0,411.10 239.4,410.72 239.8,411.16 240.2,410.86 240.6,410.27 241.0,410.06 241.4,411.00 241.8,411.98 242.2,410.23 242.6,410.32 243.0,409.83 243.4,409.14 243.8,409.36 244.2,408.57 244.6,407.81 245.0,407.32 245.4,407.55 245.8,408.62 246.2,410.29 246.6,410.93 247.0,411.32 247.4,411.58 247.8,411.11 248.2,410.83 248.6,411.88 249.0,411.81 249.4,411.50 249.8,410.86 250.2,410.59 250.6,410.88 251.0,410.87 251.4,411.74 251.8,411.84 252.2,410.86 252.6,410.79 253.0,411.09 253.4,411.36 253.8,412.62 254.2,411.40 254.6,410.38 255.0,411.26 255.4,410.42 255.8,411.90 256.2,412.53 256.6,411.58 257.0,410.23 257.4,410.50 257.8,410.06 258.2,410.59 258.6,411.50 259.0,411.35 259.4,410.59 259.8,410.10 260.2,410.25 260.6,410.88 261.0,411.08 261.4,410.62 261.8,410.34 262.2,409.56 262.6,410.67 263.0,411.14 263.4,411.93 263.8,411.73 264.2,411.13 264.6,410.80 265.0,411.20 265.4,412.27 265.8,412.07 266.2,411.32 266.6,410.32 267.0,410.02 267.4,410.85 267.8,410.87 268.2,411.46 268.6,410.58 269.0,408.68 269.4,406.38 269.8,404.79 270.2,402.34 270.6,400.63 271.0,399.64 271.4,400.05 271.8,401.32 272.2,404.14 272.6,407.15 273.0,409.36 273.4,409.26 273.8,410.21 274.2,409.27 274.6,410.23 275.0,410.25 275.4,411.89 275.8,410.78 276.2,410.52 276.6,409.58 277.0,410.63 277.4,411.19 277.8,411.81 278.2,411.40 278.6,410.67 279.0,410.40 279.4,410.49 279.8,410.84 280.2,411.63 280.6,410.95 281.0,409.95 281.4,408.08 281.8,405.92 282.2,403.95 282.6,400.58 283.0,395.67 283.4,391.70 283.8,389.72 284.2,390.41 284.6,393.60 285.0,397.80 285.4,401.91 285.8,404.76 286.2,406.31 286.6,408.68 287.0,410.11 287.4,410.50 287.8,410.22 288.2,409.16 288.6,409.90 289.0,410.11 289.4,410.29 289.8,411.10 290.2,410.81 290.6,410.32 291.0,409.19 291.4,410.14 291.8,410.35 292.2,411.04 292.6,411.33 293.0,410.65 293.4,409.87 293.8,410.94 294.2,410.76 294.6,411.62 295.0,411.63 295.4,411.45 295.8,410.30 296.2,411.25 296.6,410.72 297.0,411.32 297.4,410.64 297.8,409.63 298.2,409.80 298.6,410.62 299.0,410.83 299.4,411.51 299.8,411.66 300.2,410.36 300.6,409.92 301.0,410.67 301.4,410.91 301.8,412.25 302.2,411.58 302.6,410.86 303.0,410.65 303.4,412.33 303.8,411.48 304.2,411.82 304.6,411.81 305.0,411.56 305.4,411.05 305.8,411.03 306.2,411.24 306.6,412.09 307.0,411.27 307.4,410.12 307.8,410.58 308.2,410.74 308.6,410.71 309.0,411.10 309.4,410.85 309.8,410.16 310.2,409.58 310.6,410.80 311.0,410.73 311.4,411.88 311.8,410.48 312.2,410.23 312.6,409.54 313.0,410.71 313.4,410.23 313.8,410.63 314.2,410.38 314.6,409.50 315.0,408.80 315.4,409.25 315.8,409.46 316.2,410.01 316.6,408.71 317.0,409.51 317.4,409.16 317.8,409.24 318.2,409.32 318.6,410.86 319.0,410.76 319.4,409.66 319.8,410.16 320.2,410.78 320.6,411.22 321.0,412.33 321.4,411.63 321.8,410.27 322.2,409.75 322.6,410.20 323.0,410.95 323.4,412.07 323.8,411.64 324.2,410.65 324.6,409.43 325.0,411.02 325.4,410.80 325.8,411.98 326.2,412.10 326.6,410.96 327.0,410.00 327.4,410.17 327.8,411.37 328.2,411.23 328.6,410.83 329.0,410.43 329.4,409.57 329.8,410.22 330.2,410.75 330.6,410.75 331.0,410.87 331.4,410.92 331.8,410.38 332.2,410.97 332.6,411.15 333.0,411.60"/>
<polyline fill="none" stroke="#0072BD" stroke-width="1.25" stroke-linejoin="round" points="177.0,543.29 177.4,544.11 177.8,537.67 178.2,537.69 178.6,536.92 179.0,546.29 179.4,546.00 179.8,546.09 180.2,542.78 180.6,542.28 181.0,539.51 181.4,546.17 181.8,541.77 182.2,541.70 182.6,541.30 183.0,539.62 183.4,543.27 183.8,542.05 184.2,543.20 184.6,541.96 185.0,543.81 185.4,539.34 185.8,541.41 186.2,543.73 186.6,541.25 187.0,542.35 187.4,543.20 187.8,543.33 188.2,542.30 188.6,541.53 189.0,546.06 189.4,542.25 189.8,541.94 190.2,541.51 190.6,542.15 191.0,542.35 191.4,545.18 191.8,541.14 192.2,541.19 192.6,540.18 193.0,539.86 193.4,542.28 193.8,542.96 194.2,541.91 194.6,540.67 195.0,541.26 195.4,544.13 195.8,543.79 196.2,537.32 196.6,544.44 197.0,538.37 197.4,537.73 197.8,541.89 198.2,539.86 198.6,545.67 199.0,543.31 199.4,539.82 199.8,537.59 200.2,542.09 200.6,544.69 201.0,543.69 201.4,545.83 201.8,542.37 202.2,541.81 202.6,540.87 203.0,543.12 203.4,543.03 203.8,539.31 204.2,546.38 204.6,540.87 205.0,542.11 205.4,545.04 205.8,543.60 206.2,542.80 206.6,542.28 207.0,538.66 207.4,544.77 207.8,543.98 208.2,543.46 208.6,545.23 209.0,543.14 209.4,539.72 209.8,542.44 210.2,542.91 210.6,544.19 211.0,543.39 211.4,542.96 211.8,538.45 212.2,540.65 212.6,539.02 213.0,540.82 213.4,536.32 213.8,533.79 214.2,535.44 214.6,540.81 215.0,540.49 215.4,540.58 215.8,544.67 216.2,539.97 216.6,539.51 217.0,542.58 217.4,542.70 217.8,543.02 218.2,541.28 218.6,541.02 219.0,542.11 219.4,538.76 219.8,540.72 220.2,545.05 220.6,546.32 221.0,537.65 221.4,540.77 221.8,543.79 222.2,541.36 222.6,541.62 223.0,544.05 223.4,540.13 223.8,539.05 224.2,539.81 224.6,538.41 225.0,535.89 225.4,536.60 225.8,531.18 226.2,522.86 226.6,516.25 227.0,512.19 227.4,510.90 227.8,512.63 228.2,518.49 228.6,526.09 229.0,531.78 229.4,535.26 229.8,538.77 230.2,543.32 230.6,539.02 231.0,542.64 231.4,541.54 231.8,538.64 232.2,538.53 232.6,536.38 233.0,534.08 233.4,532.24 233.8,534.15 234.2,535.48 234.6,536.33 235.0,538.28 235.4,538.21 235.8,539.28 236.2,541.78 236.6,538.82 237.0,544.20 237.4,542.98 237.8,541.56 238.2,538.58 238.6,540.77 239.0,541.34 239.4,543.44 239.8,538.13 240.2,540.68 240.6,540.82 241.0,538.86 241.4,539.39 241.8,543.26 242.2,546.00 242.6,541.73 243.0,541.13 243.4,541.29 243.8,543.74 244.2,544.52 244.6,540.81 245.0,542.24 245.4,542.34 245.8,540.15 246.2,542.89 246.6,545.29 247.0,544.03 247.4,541.51 247.8,544.57 248.2,544.07 248.6,543.09 249.0,541.28 249.4,543.53 249.8,543.64 250.2,541.95 250.6,543.30 251.0,546.71 251.4,545.63 251.8,545.56 252.2,539.68 252.6,541.28 253.0,544.33 253.4,541.18 253.8,546.91 254.2,540.50 254.6,540.93 255.0,544.09 255.4,538.11 255.8,544.10 256.2,540.98 256.6,540.21 257.0,541.43 257.4,540.32 257.8,541.90 258.2,541.13 258.6,541.42 259.0,538.98 259.4,540.81 259.8,535.11 260.2,541.91 260.6,542.36 261.0,545.70 261.4,545.10 261.8,539.31 262.2,542.21 262.6,540.81 263.0,542.40 263.4,545.72 263.8,544.29 264.2,543.45 264.6,541.70 265.0,543.27 265.4,541.93 265.8,543.71 266.2,545.06 266.6,540.89 267.0,540.87 267.4,543.66 267.8,542.59 268.2,541.56 268.6,542.68 269.0,543.51 269.4,538.58 269.8,538.19 270.2,541.33 270.6,540.24 271.0,540.29 271.4,539.42 271.8,538.45 272.2,540.79 272.6,542.07 273.0,540.59 273.4,543.91 273.8,544.16 274.2,541.10 274.6,542.42 275.0,545.34 275.4,540.73 275.8,540.55 276.2,541.26 276.6,541.48 277.0,543.47 277.4,543.67 277.8,540.70 278.2,545.14 278.6,544.42 279.0,539.34 279.4,542.60 279.8,541.00 280.2,541.94 280.6,540.27 281.0,543.24 281.4,537.96 281.8,540.02 282.2,541.38 282.6,539.07 283.0,538.35 283.4,536.93 283.8,538.11 284.2,534.86 284.6,538.02 285.0,540.31 285.4,540.22 285.8,543.21 286.2,540.92 286.6,541.15 287.0,544.18 287.4,545.68 287.8,541.08 288.2,543.32 288.6,542.18 289.0,541.51 289.4,540.85 289.8,544.58 290.2,543.34 290.6,539.73 291.0,539.90 291.4,545.13 291.8,542.00 292.2,540.68 292.6,542.96 293.0,542.79 293.4,542.67 293.8,541.50 294.2,546.51 294.6,542.84 295.0,543.01 295.4,543.70 295.8,541.05 296.2,537.62 296.6,544.36 297.0,544.70 297.4,542.01 297.8,544.25 298.2,542.96 298.6,541.10 299.0,540.36 299.4,540.69 299.8,542.78 300.2,541.27 300.6,541.32 301.0,537.32 301.4,542.68 301.8,540.98 302.2,541.87 302.6,545.89 303.0,541.20 303.4,543.58 303.8,543.05 304.2,544.28 304.6,542.57 305.0,541.36 305.4,542.86 305.8,539.23 306.2,541.07 306.6,543.81 307.0,542.47 307.4,545.19 307.8,541.00 308.2,542.12 308.6,544.08 309.0,541.87 309.4,546.12 309.8,541.72 310.2,542.37 310.6,540.57 311.0,540.43 311.4,543.57 311.8,542.48 312.2,543.02 312.6,540.30 313.0,546.37 313.4,542.86 313.8,541.27 314.2,542.33 314.6,544.02 315.0,540.88 315.4,539.88 315.8,541.71 316.2,545.03 316.6,545.51 317.0,540.73 317.4,543.98 317.8,541.13 318.2,547.17 318.6,543.98 319.0,541.10 319.4,541.76 319.8,541.12 320.2,543.45 320.6,544.96 321.0,545.01 321.4,541.21 321.8,542.07 322.2,540.19 322.6,541.75 323.0,541.60 323.4,541.79 323.8,547.13 324.2,541.14 324.6,537.78 325.0,541.22 325.4,544.86 325.8,544.33 326.2,540.91 326.6,543.29 327.0,544.52 327.4,538.54 327.8,541.86 328.2,543.99 328.6,544.01 329.0,541.46 329.4,541.68 329.8,539.04 330.2,544.80 330.6,541.63 331.0,538.64 331.4,541.45 331.8,540.28 332.2,539.43 332.6,541.16 333.0,543.70"/>
<polyline fill="none" stroke="#7E2F8E" stroke-width="1.25" stroke-linejoin="round" points="352.0,166.57 352.4,166.02 352.8,165.28 353.2,165.25 353.6,165.49 354.0,165.84 354.4,165.87 354.8,165.74 355.2,165.32 355.6,164.66 356.0,165.80 356.4,166.87 356.8,167.01 357.2,166.46 357.6,166.16 358.0,164.95 358.4,165.87 358.8,165.53 359.2,166.37 359.6,166.48 360.0,165.88 360.4,165.27 360.8,166.27 361.2,166.70 361.6,167.33 362.0,166.24 362.4,165.70 362.8,165.05 363.2,165.33 363.6,165.36 364.0,166.68 364.4,167.26 364.8,165.05 365.2,165.22 365.6,165.81 366.0,166.31 366.4,166.96 366.8,166.11 367.2,165.49 367.6,164.87 368.0,164.79 368.4,165.65 368.8,166.08 369.2,165.99 369.6,165.24 370.0,164.58 370.4,166.11 370.8,165.92 371.2,166.32 371.6,166.38 372.0,165.17 372.4,164.88 372.8,165.35 373.2,165.38 373.6,165.60 374.0,165.69 374.4,164.70 374.8,163.99 375.2,165.04 375.6,165.04 376.0,166.48 376.4,164.67 376.8,163.55 377.2,163.54 377.6,163.92 378.0,164.43 378.4,164.00 378.8,163.39 379.2,163.11 379.6,163.74 380.0,163.43 380.4,165.08 380.8,165.82 381.2,165.24 381.6,165.03 382.0,164.71 382.4,164.89 382.8,165.68 383.2,166.38 383.6,165.76 384.0,164.65 384.4,163.99 384.8,164.40 385.2,164.99 385.6,165.08 386.0,164.72 386.4,163.61 386.8,161.72 387.2,161.13 387.6,158.24 388.0,154.67 388.4,149.06 388.8,143.13 389.2,137.56 389.6,134.85 390.0,135.50 390.4,139.90 390.8,144.61 391.2,149.12 391.6,152.69 392.0,154.86 392.4,155.11 392.8,153.10 393.2,147.52 393.6,139.05 394.0,128.02 394.4,115.87 394.8,103.72 395.2,95.01 395.6,92.79 396.0,98.48 396.4,109.44 396.8,122.54 397.2,134.91 397.6,144.90 398.0,151.08 398.4,154.84 398.8,155.60 399.2,155.95 399.6,156.54 400.0,156.39 400.4,157.04 400.8,157.43 401.2,159.46 401.6,161.52 402.0,163.72 402.4,164.92 402.8,166.04 403.2,164.84 403.6,165.04 404.0,164.80 404.4,164.81 404.8,165.31 405.2,165.40 405.6,164.09 406.0,163.49 406.4,163.79 406.8,163.34 407.2,162.30 407.6,161.50 408.0,161.59 408.4,161.21 408.8,162.96 409.2,164.04 409.6,164.69 410.0,165.03 410.4,164.36 410.8,164.15 411.2,164.57 411.6,165.81 412.0,166.31 412.4,166.10 412.8,164.86 413.2,164.62 413.6,165.74 414.0,166.44 414.4,166.95 414.8,166.12 415.2,164.77 415.6,164.39 416.0,164.96 416.4,165.38 416.8,166.14 417.2,165.49 417.6,165.67 418.0,165.02 418.4,165.23 418.8,165.32 419.2,166.45 419.6,164.83 420.0,164.07 420.4,163.12 420.8,164.99 421.2,165.68 421.6,165.58 422.0,164.84 422.4,164.75 422.8,164.25 423.2,164.70 423.6,165.26 424.0,164.96 424.4,164.33 424.8,163.58 425.2,162.66 425.6,162.63 426.0,162.29 426.4,162.34 426.8,161.72 427.2,160.28 427.6,159.98 428.0,159.38 428.4,158.93 428.8,156.22 429.2,151.87 429.6,144.06 430.0,133.59 430.4,121.03 430.8,109.34 431.2,103.24 431.6,105.22 432.0,114.81 432.4,127.39 432.8,139.59 433.2,149.18 433.6,155.85 434.0,159.61 434.4,161.25 434.8,161.90 435.2,163.02 435.6,163.16 436.0,163.16 436.4,161.96 436.8,161.08 437.2,160.09 437.6,160.22 438.0,160.03 438.4,161.23 438.8,161.03 439.2,159.80 439.6,158.02 440.0,155.12 440.4,148.47 440.8,136.72 441.2,118.71 441.6,96.18 442.0,73.71 442.4,61.67 442.8,66.41 443.2,85.11 443.6,108.11 444.0,128.10 444.4,142.73 444.8,152.61 445.2,157.78 445.6,160.96 446.0,161.40 446.4,161.32 446.8,160.02 447.2,159.69 447.6,159.45 448.0,159.14 448.4,159.33 448.8,160.67 449.2,161.45 449.6,163.11 450.0,164.90 450.4,166.24 450.8,166.40 451.2,164.94 451.6,164.79 452.0,165.15 452.4,165.65 452.8,166.28 453.2,165.27 453.6,165.20 454.0,164.13 454.4,165.42 454.8,165.79 455.2,165.91 455.6,165.20 456.0,165.51 456.4,164.98 456.8,166.32 457.2,166.90 457.6,166.39 458.0,166.59 458.4,165.65 458.8,165.03 459.2,165.18 459.6,166.08 460.0,166.84 460.4,165.85 460.8,165.67 461.2,164.85 461.6,165.89 462.0,166.01 462.4,166.33 462.8,165.72 463.2,165.06 463.6,165.10 464.0,164.97 464.4,165.86 464.8,166.00 465.2,165.71 465.6,166.00 466.0,165.19 466.4,165.57 466.8,165.53 467.2,166.01 467.6,165.64 468.0,164.84 468.4,164.28 468.8,165.26 469.2,166.12 469.6,165.57 470.0,164.49 470.4,162.10 470.8,159.62 471.2,157.45 471.6,155.24 472.0,155.05 472.4,156.47 472.8,158.53 473.2,160.60 473.6,163.19 474.0,165.14 474.4,167.07 474.8,166.10 475.2,165.36 475.6,164.44 476.0,165.30 476.4,165.09 476.8,164.23 477.2,162.75 477.6,161.49 478.0,161.29 478.4,162.08 478.8,163.13 479.2,163.91 479.6,164.54 480.0,165.30 480.4,165.12 480.8,165.69 481.2,165.98 481.6,166.10 482.0,165.50 482.4,164.09 482.8,161.90 483.2,160.88 483.6,159.20 484.0,157.14 484.4,155.77 484.8,156.18 485.2,157.10 485.6,160.87 486.0,162.33 486.4,164.35 486.8,165.29 487.2,164.83 487.6,165.20 488.0,165.83 488.4,166.09 488.8,166.63 489.2,165.00 489.6,163.83 490.0,161.97 490.4,162.87 490.8,163.71 491.2,165.24 491.6,164.63 492.0,165.14 492.4,164.63 492.8,166.00 493.2,165.92 493.6,166.95 494.0,166.49 494.4,166.46 494.8,164.71 495.2,166.26 495.6,166.68 496.0,167.50 496.4,166.47 496.8,165.40 497.2,165.67 497.6,165.47 498.0,166.59 498.4,166.87 498.8,166.67 499.2,166.29 499.6,165.25 500.0,165.57 500.4,166.41 500.8,167.27 501.2,165.99 501.6,166.07 502.0,165.29 502.4,165.90 502.8,166.99 503.2,167.71 503.6,166.75 504.0,165.86 504.4,164.90 504.8,165.94 505.2,167.08 505.6,167.45 506.0,166.88 506.4,165.51 506.8,164.74 507.2,165.86 507.6,165.78 508.0,166.82"/>
<polyline fill="none" stroke="#EDB120" stroke-width="1.25" stroke-linejoin="round" points="352.0,294.68 352.4,293.79 352.8,292.26 353.2,292.04 353.6,292.87 354.0,292.97 354.4,293.95 354.8,293.09 355.2,292.31 355.6,291.52 356.0,292.31 356.4,293.16 356.8,292.97 357.2,293.36 357.6,292.73 358.0,292.42 358.4,292.23 358.8,293.00 359.2,293.79 359.6,292.30 360.0,291.49 360.4,291.16 360.8,292.36 361.2,293.62 361.6,293.67 362.0,293.60 362.4,292.74 362.8,292.87 363.2,292.78 363.6,293.60 364.0,293.78 364.4,293.13 364.8,292.78 365.2,291.94 365.6,292.99 366.0,293.03 366.4,293.57 366.8,292.93 367.2,293.16 367.6,292.16 368.0,293.34 368.4,293.66 368.8,294.10 369.2,293.77 369.6,293.06 370.0,292.57 370.4,292.70 370.8,293.12 371.2,293.46 371.6,292.51 372.0,291.89 372.4,291.35 372.8,291.63 373.2,292.60 373.6,293.16 374.0,292.21 374.4,292.24 374.8,290.96 375.2,290.88 375.6,290.98 376.0,291.12 376.4,290.29 376.8,290.10 377.2,289.05 377.6,289.80 378.0,290.46 378.4,291.89 378.8,290.96 379.2,291.07 379.6,290.83 380.0,291.72 380.4,292.42 380.8,292.77 381.2,292.67 381.6,291.92 382.0,292.15 382.4,291.43 382.8,292.82 383.2,292.92 383.6,292.33 384.0,292.49 384.4,291.53 384.8,290.59 385.2,291.28 385.6,291.42 386.0,289.66 386.4,288.99 386.8,287.37 387.2,285.67 387.6,282.18 388.0,278.14 388.4,271.32 388.8,263.92 389.2,257.26 389.6,254.09 390.0,255.22 390.4,259.98 390.8,266.24 391.2,272.13 391.6,275.73 392.0,278.36 392.4,277.47 392.8,273.85 393.2,266.09 393.6,254.53 394.0,240.12 394.4,224.97 394.8,212.04 395.2,205.34 395.6,207.56 396.0,218.30 396.4,233.04 396.8,248.84 397.2,261.88 397.6,272.24 398.0,278.93 398.4,282.79 398.8,284.66 399.2,285.59 399.6,285.00 400.0,284.47 400.4,282.78 400.8,282.44 401.2,282.97 401.6,284.60 402.0,286.60 402.4,288.93 402.8,289.61 403.2,290.48 403.6,290.16 404.0,290.52 404.4,290.66 404.8,291.08 405.2,290.51 405.6,288.90 406.0,287.77 406.4,287.24 406.8,285.76 407.2,285.41 407.6,284.76 408.0,284.92 408.4,285.81 408.8,288.12 409.2,289.76 409.6,291.50 410.0,292.15 410.4,291.18 410.8,291.17 411.2,292.26 411.6,293.33 412.0,293.88 412.4,293.34 412.8,293.16 413.2,292.37 413.6,292.73 414.0,293.41 414.4,293.65 414.8,293.26 415.2,292.54 415.6,290.33 416.0,292.29 416.4,292.38 416.8,293.12 417.2,292.71 417.6,291.19 418.0,291.07 418.4,291.90 418.8,292.24 419.2,293.08 419.6,292.06 420.0,290.93 420.4,291.06 420.8,291.71 421.2,292.11 421.6,292.31 422.0,292.22 422.4,292.16 422.8,291.71 423.2,292.12 423.6,291.82 424.0,291.48 424.4,290.73 424.8,290.10 425.2,289.16 425.6,289.46 426.0,288.76 426.4,288.80 426.8,288.12 427.2,287.56 427.6,287.34 428.0,287.04 428.4,285.92 428.8,283.13 429.2,277.52 429.6,268.42 430.0,256.14 430.4,241.81 430.8,228.26 431.2,221.24 431.6,223.40 432.0,234.39 432.4,248.84 432.8,262.40 433.2,273.38 433.6,280.56 434.0,284.25 434.4,286.79 434.8,287.05 435.2,287.30 435.6,286.86 436.0,286.33 436.4,284.92 436.8,283.49 437.2,283.30 437.6,284.90 438.0,286.95 438.4,287.98 438.8,288.84 439.2,287.94 439.6,286.60 440.0,283.80 440.4,279.03 440.8,269.48 441.2,253.41 441.6,231.98 442.0,207.68 442.4,188.47 442.8,184.07 443.2,197.46 443.6,220.15 444.0,243.27 444.4,261.85 444.8,274.43 445.2,281.97 445.6,286.20 446.0,287.95 446.4,288.33 446.8,288.03 447.2,287.96 447.6,287.66 448.0,285.73 448.4,284.82 448.8,284.00 449.2,284.70 449.6,287.06 450.0,289.48 450.4,291.73 450.8,291.26 451.2,292.33 451.6,291.89 452.0,292.08 452.4,292.63 452.8,293.02 453.2,293.21 453.6,292.67 454.0,292.72 454.4,292.60 454.8,293.57 455.2,293.84 455.6,292.63 456.0,292.63 456.4,291.09 456.8,291.80 457.2,291.90 457.6,292.83 458.0,292.50 458.4,291.71 458.8,291.57 459.2,292.32 459.6,292.63 460.0,293.64 460.4,292.89 460.8,292.09 461.2,290.97 461.6,291.47 462.0,292.27 462.4,293.02 462.8,291.89 463.2,292.23 463.6,291.44 464.0,291.43 464.4,292.55 464.8,293.36 465.2,292.74 465.6,293.09 466.0,291.99 466.4,292.95 466.8,293.35 467.2,294.35 467.6,292.43 468.0,292.20 468.4,291.60 468.8,292.56 469.2,293.09 469.6,294.00 470.0,292.75 470.4,291.51 470.8,289.85 471.2,289.23 471.6,288.01 472.0,286.24 472.4,284.19 472.8,283.57 473.2,284.66 473.6,287.43 474.0,290.20 474.4,292.61 474.8,292.60 475.2,292.70 475.6,291.78 476.0,293.73 476.4,292.73 476.8,293.84 477.2,292.13 477.6,291.40 478.0,289.88 478.4,288.93 478.8,288.55 479.2,288.82 479.6,289.38 480.0,290.20 480.4,290.25 480.8,290.92 481.2,292.46 481.6,292.29 482.0,292.26 482.4,291.25 482.8,290.50 483.2,291.21 483.6,290.43 484.0,289.49 484.4,287.83 484.8,286.69 485.2,285.75 485.6,287.66 486.0,289.44 486.4,290.97 486.8,291.88 487.2,292.29 487.6,290.82 488.0,292.59 488.4,292.96 488.8,293.15 489.2,292.87 489.6,292.23 490.0,291.45 490.4,292.98 490.8,293.31 491.2,294.43 491.6,293.48 492.0,292.44 492.4,292.53 492.8,292.78 493.2,292.87 493.6,293.23 494.0,293.66 494.4,293.55 494.8,293.24 495.2,293.65 495.6,294.11 496.0,294.76 496.4,294.08 496.8,293.68 497.2,292.52 497.6,292.59 498.0,293.31 498.4,293.83 498.8,292.86 499.2,292.17 499.6,292.15 500.0,292.11 500.4,291.74 500.8,292.97 501.2,291.59 501.6,292.29 502.0,291.99 502.4,292.53 502.8,292.87 503.2,293.56 503.6,293.42 504.0,292.39 504.4,292.22 504.8,292.53 505.2,293.40 505.6,294.50 506.0,293.29 506.4,292.32 506.8,291.59 507.2,292.31 507.6,292.90 508.0,293.81"/>
<polyline fill="none" stroke="#D95319" stroke-width="1.25" stroke-linejoin="round" points="352.0,421.47 352.4,420.26 352.8,419.72 353.2,418.47 353.6,420.02 354.0,420.48 354.4,420.96 354.8,420.89 355.2,420.51 355.6,419.53 356.0,419.94 356.4,420.42 356.8,421.18 357.2,420.53 357.6,419.30 358.0,418.84 358.4,419.89 358.8,420.57 359.2,420.36 359.6,419.49 360.0,419.48 360.4,418.32 360.8,419.39 361.2,420.35 361.6,420.71 362.0,419.71 362.4,419.21 362.8,418.04 363.2,418.99 363.6,419.63 364.0,420.55 364.4,419.96 364.8,419.60 365.2,419.04 365.6,419.82 366.0,420.31 366.4,420.77 366.8,420.18 367.2,418.14 367.6,418.21 368.0,418.24 368.4,418.58 368.8,419.77 369.2,419.31 369.6,419.14 370.0,417.84 370.4,419.12 370.8,419.84 371.2,419.90 371.6,419.35 372.0,419.31 372.4,418.75 372.8,419.76 373.2,420.41 373.6,421.14 374.0,420.24 374.4,419.68 374.8,417.93 375.2,418.22 375.6,418.21 376.0,417.17 376.4,416.46 376.8,414.37 377.2,413.34 377.6,413.92 378.0,413.79 378.4,414.98 378.8,416.16 379.2,415.91 379.6,416.40 380.0,417.73 380.4,418.61 380.8,419.46 381.2,419.08 381.6,419.05 382.0,418.55 382.4,418.95 382.8,418.97 383.2,419.30 383.6,418.19 384.0,418.25 384.4,416.66 384.8,417.57 385.2,417.81 385.6,416.63 386.0,415.23 386.4,413.00 386.8,409.77 387.2,404.70 387.6,397.87 388.0,388.95 388.4,379.09 388.8,371.07 389.2,367.28 389.6,370.41 390.0,378.08 390.4,387.42 390.8,395.22 391.2,401.47 391.6,404.51 392.0,405.49 392.4,403.11 392.8,396.97 393.2,386.59 393.6,371.98 394.0,353.57 394.4,334.22 394.8,317.78 395.2,309.28 395.6,312.09 396.0,325.81 396.4,344.23 396.8,363.75 397.2,380.99 397.6,393.83 398.0,402.56 398.4,407.69 398.8,410.07 399.2,411.55 399.6,411.53 400.0,410.53 400.4,409.41 400.8,408.53 401.2,409.15 401.6,410.61 402.0,413.36 402.4,415.60 402.8,416.54 403.2,417.42 403.6,417.00 404.0,417.62 404.4,418.56 404.8,419.31 405.2,417.81 405.6,416.77 406.0,415.74 406.4,414.90 406.8,414.13 407.2,414.08 407.6,414.21 408.0,414.43 408.4,415.81 408.8,417.04 409.2,418.14 409.6,418.59 410.0,418.75 410.4,419.08 410.8,418.91 411.2,419.46 411.6,420.62 412.0,421.56 412.4,420.42 412.8,419.79 413.2,418.89 413.6,419.39 414.0,420.62 414.4,421.06 414.8,420.31 415.2,419.13 415.6,418.52 416.0,419.42 416.4,419.87 416.8,420.64 417.2,419.81 417.6,419.78 418.0,419.70 418.4,420.16 418.8,420.70 419.2,420.67 419.6,420.30 420.0,419.19 420.4,418.99 420.8,419.12 421.2,419.63 421.6,420.07 422.0,419.95 422.4,419.19 422.8,418.53 423.2,418.51 423.6,419.27 424.0,418.99 424.4,418.75 424.8,417.06 425.2,416.01 425.6,416.05 426.0,415.81 426.4,416.14 426.8,415.95 427.2,415.80 427.6,414.36 428.0,414.04 428.4,412.73 428.8,409.00 429.2,402.07 429.6,391.54 430.0,376.83 430.4,359.81 430.8,344.19 431.2,335.38 431.6,338.36 432.0,351.55 432.4,368.65 432.8,384.64 433.2,397.60 433.6,406.65 434.0,410.92 434.4,413.30 434.8,414.04 435.2,415.01 435.6,415.56 436.0,415.87 436.4,414.68 436.8,412.84 437.2,410.67 437.6,409.71 438.0,410.90 438.4,412.42 438.8,413.57 439.2,413.83 439.6,412.95 440.0,412.68 440.4,409.56 440.8,404.28 441.2,393.74 441.6,377.23 442.0,355.61 442.4,332.60 442.8,317.30 443.2,317.62 443.6,333.31 444.0,356.19 444.4,377.55 444.8,394.41 445.2,405.28 445.6,411.33 446.0,414.16 446.4,415.33 446.8,415.27 447.2,415.96 447.6,415.44 448.0,415.22 448.4,414.12 448.8,413.55 449.2,413.92 449.6,415.26 450.0,416.77 450.4,418.00 450.8,418.49 451.2,418.00 451.6,418.14 452.0,419.02 452.4,419.62 452.8,420.56 453.2,420.73 453.6,420.34 454.0,418.99 454.4,419.63 454.8,419.93 455.2,420.30 455.6,420.28 456.0,419.37 456.4,419.02 456.8,419.63 457.2,419.29 457.6,419.82 458.0,419.47 458.4,419.41 458.8,418.65 459.2,419.63 459.6,420.57 460.0,421.34 460.4,420.64 460.8,419.67 461.2,418.77 461.6,420.22 462.0,420.49 462.4,420.55 462.8,419.99 463.2,419.33 463.6,418.23 464.0,419.77 464.4,420.25 464.8,421.28 465.2,421.04 465.6,420.13 466.0,419.73 466.4,420.22 466.8,420.58 467.2,421.05 467.6,421.07 468.0,419.72 468.4,419.70 468.8,419.16 469.2,420.07 469.6,420.19 470.0,419.26 470.4,417.94 470.8,418.65 471.2,417.59 471.6,417.11 472.0,416.34 472.4,414.01 472.8,412.13 473.2,411.30 473.6,412.67 474.0,415.78 474.4,417.75 474.8,418.97 475.2,419.33 475.6,419.37 476.0,419.53 476.4,420.08 476.8,420.59 477.2,419.39 477.6,418.97 478.0,417.91 478.4,417.83 478.8,418.23 479.2,418.35 479.6,418.56 480.0,418.42 480.4,417.19 480.8,418.90 481.2,419.41 481.6,420.69 482.0,419.83 482.4,419.28 482.8,418.16 483.2,418.56 483.6,418.28 484.0,417.42 484.4,416.57 484.8,415.36 485.2,414.39 485.6,414.58 486.0,416.40 486.4,417.43 486.8,418.55 487.2,418.48 487.6,419.33 488.0,419.27 488.4,420.68 488.8,420.64 489.2,420.60 489.6,420.23 490.0,418.25 490.4,419.06 490.8,420.07 491.2,420.61 491.6,419.59 492.0,419.91 492.4,418.88 492.8,420.02 493.2,420.32 493.6,420.46 494.0,420.14 494.4,420.29 494.8,418.81 495.2,419.67 495.6,420.61 496.0,421.34 496.4,421.08 496.8,420.03 497.2,421.03 497.6,420.79 498.0,421.39 498.4,421.88 498.8,421.14 499.2,420.18 499.6,419.69 500.0,420.50 500.4,419.68 500.8,419.38 501.2,419.63 501.6,418.79 502.0,418.30 502.4,419.08 502.8,418.77 503.2,419.78 503.6,419.81 504.0,419.97 504.4,419.73 504.8,419.61 505.2,419.91 505.6,420.76 506.0,419.79 506.4,420.23 506.8,419.10 507.2,419.46 507.6,419.66 508.0,420.98"/>
<polyline fill="none" stroke="#0072BD" stroke-width="1.25" stroke-linejoin="round" points="352.0,548.96 352.4,547.44 352.8,546.91 353.2,546.21 353.6,548.56 354.0,548.72 354.4,548.42 354.8,547.34 355.2,546.96 355.6,549.50 356.0,548.81 356.4,548.01 356.8,547.03 357.2,546.17 357.6,548.93 358.0,549.94 358.4,549.37 358.8,547.33 359.2,547.06 359.6,548.80 360.0,549.12 360.4,547.77 360.8,546.82 361.2,546.69 361.6,546.94 362.0,547.49 362.4,546.36 362.8,545.01 363.2,544.88 363.6,547.00 364.0,548.48 364.4,547.42 364.8,546.13 365.2,545.82 365.6,547.27 366.0,548.89 366.4,546.97 366.8,545.73 367.2,546.01 367.6,546.93 368.0,548.17 368.4,547.77 368.8,547.76 369.2,547.52 369.6,548.29 370.0,549.19 370.4,548.18 370.8,548.02 371.2,545.41 371.6,547.91 372.0,548.72 372.4,547.90 372.8,545.92 373.2,547.47 373.6,548.20 374.0,548.84 374.4,547.49 374.8,545.57 375.2,545.39 375.6,545.70 376.0,546.14 376.4,543.81 376.8,541.67 377.2,541.04 377.6,541.40 378.0,542.35 378.4,541.59 378.8,542.46 379.2,542.47 379.6,544.16 380.0,546.07 380.4,546.17 380.8,546.23 381.2,545.09 381.6,547.24 382.0,547.99 382.4,546.34 382.8,545.74 383.2,545.72 383.6,546.64 384.0,547.24 384.4,546.03 384.8,545.50 385.2,545.45 385.6,546.68 386.0,545.62 386.4,542.34 386.8,538.23 387.2,530.42 387.6,518.81 388.0,503.21 388.4,487.00 388.8,476.41 389.2,476.53 389.6,486.97 390.0,502.76 390.4,518.14 390.8,529.01 391.2,536.38 391.6,540.88 392.0,541.73 392.4,538.38 392.8,531.52 393.2,519.62 393.6,501.95 394.0,479.45 394.4,455.73 394.8,438.45 395.2,435.08 395.6,445.96 396.0,467.68 396.4,490.87 396.8,511.65 397.2,526.80 397.6,536.68 398.0,542.28 398.4,543.37 398.8,543.75 399.2,542.44 399.6,542.22 400.0,542.40 400.4,540.17 400.8,538.33 401.2,538.50 401.6,540.19 402.0,542.88 402.4,543.77 402.8,544.06 403.2,545.21 403.6,546.80 404.0,546.92 404.4,546.32 404.8,545.77 405.2,546.03 405.6,545.47 406.0,544.92 406.4,543.12 406.8,540.06 407.2,539.57 407.6,541.18 408.0,543.25 408.4,543.93 408.8,543.36 409.2,545.69 409.6,547.22 410.0,548.27 410.4,547.67 410.8,547.03 411.2,546.58 411.6,547.43 412.0,548.28 412.4,547.89 412.8,546.33 413.2,546.36 413.6,547.20 414.0,548.85 414.4,547.56 414.8,545.88 415.2,544.75 415.6,546.39 416.0,547.02 416.4,545.30 416.8,546.31 417.2,545.55 417.6,547.03 418.0,548.99 418.4,547.60 418.8,545.75 419.2,545.56 419.6,547.23 420.0,547.39 420.4,547.38 420.8,546.12 421.2,546.60 421.6,547.21 422.0,547.76 422.4,547.28 422.8,546.02 423.2,545.51 423.6,546.43 424.0,547.18 424.4,546.51 424.8,545.60 425.2,544.90 425.6,544.88 426.0,545.66 426.4,544.65 426.8,543.64 427.2,542.75 427.6,544.04 428.0,544.60 428.4,542.67 428.8,540.81 429.2,537.82 429.6,531.97 430.0,521.83 430.4,507.36 430.8,492.40 431.2,481.35 431.6,479.22 432.0,487.12 432.4,500.08 432.8,514.79 433.2,526.99 433.6,536.66 434.0,541.68 434.4,543.23 434.8,543.89 435.2,544.69 435.6,544.80 436.0,546.58 436.4,544.84 436.8,542.50 437.2,540.80 437.6,539.93 438.0,540.80 438.4,541.38 438.8,542.60 439.2,543.80 439.6,545.51 440.0,547.08 440.4,544.81 440.8,542.63 441.2,537.73 441.6,530.39 442.0,517.27 442.4,499.70 442.8,482.23 443.2,470.81 443.6,471.36 444.0,482.77 444.4,499.67 444.8,516.50 445.2,529.50 445.6,538.61 446.0,544.94 446.4,545.72 446.8,545.82 447.2,545.35 447.6,545.48 448.0,546.06 448.4,543.50 448.8,540.94 449.2,541.64 449.6,542.76 450.0,544.30 450.4,545.69 450.8,545.36 451.2,545.86 451.6,546.91 452.0,548.87 452.4,547.02 452.8,545.81 453.2,545.87 453.6,547.01 454.0,547.95 454.4,547.15 454.8,545.94 455.2,546.81 455.6,547.37 456.0,549.74 456.4,548.18 456.8,546.89 457.2,547.24 457.6,548.61 458.0,549.83 458.4,548.67 458.8,547.17 459.2,546.08 459.6,547.20 460.0,549.04 460.4,547.33 460.8,545.38 461.2,546.45 461.6,548.00 462.0,548.66 462.4,547.50 462.8,546.93 463.2,547.32 463.6,547.98 464.0,548.89 464.4,548.92 464.8,547.11 465.2,547.79 465.6,547.59 466.0,548.82 466.4,547.54 466.8,547.12 467.2,546.58 467.6,547.56 468.0,548.45 468.4,547.72 468.8,546.84 469.2,546.12 469.6,547.90 470.0,548.90 470.4,547.30 470.8,546.35 471.2,546.59 471.6,545.66 472.0,547.15 472.4,544.86 472.8,541.66 473.2,541.06 473.6,542.16 474.0,544.04 474.4,544.44 474.8,545.02 475.2,545.85 475.6,547.29 476.0,549.17 476.4,547.31 476.8,546.39 477.2,546.37 477.6,547.27 478.0,547.97 478.4,547.68 478.8,546.14 479.2,546.56 479.6,547.25 480.0,549.22 480.4,548.22 480.8,547.53 481.2,548.41 481.6,549.76 482.0,549.66 482.4,548.65 482.8,547.30 483.2,547.30 483.6,549.31 484.0,550.01 484.4,548.49 484.8,547.82 485.2,546.88 485.6,547.31 486.0,547.43 486.4,546.09 486.8,544.82 487.2,545.18 487.6,546.25 488.0,547.84 488.4,547.89 488.8,547.39 489.2,547.61 489.6,548.31 490.0,549.81 490.4,547.52 490.8,546.56 491.2,546.42 491.6,548.23 492.0,548.56 492.4,546.98 492.8,546.74 493.2,546.27 493.6,546.79 494.0,547.16 494.4,547.05 494.8,545.72 495.2,545.32 495.6,546.42 496.0,547.40 496.4,547.42 496.8,545.75 497.2,545.51 497.6,546.99 498.0,549.02 498.4,547.50 498.8,545.64 499.2,545.58 499.6,547.42 500.0,549.43 500.4,547.95 500.8,546.67 501.2,546.97 501.6,547.95 502.0,548.91 502.4,547.37 502.8,546.16 503.2,546.18 503.6,547.92 504.0,549.18 504.4,547.45 504.8,546.97 505.2,545.97 505.6,548.39 506.0,548.91 506.4,548.08 506.8,547.47 507.2,547.47 507.6,547.74 508.0,549.12"/>
<polyline fill="none" stroke="#7E2F8E" stroke-width="1.25" stroke-linejoin="round" points="527.0,166.72 527.4,166.63 527.8,165.60 528.2,165.09 528.6,166.15 529.0,166.51 529.4,167.52 529.8,166.52 530.2,165.95 530.6,164.11 531.0,165.02 531.4,165.61 531.8,167.10 532.2,165.91 532.6,165.54 533.0,164.52 533.4,165.01 533.8,166.41 534.2,166.34 534.6,165.52 535.0,164.54 535.4,164.82 535.8,165.54 536.2,165.58 536.6,166.90 537.0,166.37 537.4,164.92 537.8,164.74 538.2,165.98 538.6,165.25 539.0,166.54 539.4,166.40 539.8,164.71 540.2,164.15 540.6,165.27 541.0,166.26 541.4,167.05 541.8,165.50 542.2,164.95 542.6,164.40 543.0,164.60 543.4,165.64 543.8,165.61 544.2,165.01 544.6,165.37 545.0,164.06 545.4,164.51 545.8,165.70 546.2,166.37 546.6,166.16 547.0,165.42 547.4,164.44 547.8,164.88 548.2,165.27 548.6,166.47 549.0,166.07 549.4,164.56 549.8,164.16 550.2,164.79 550.6,165.19 551.0,165.95 551.4,165.33 551.8,164.11 552.2,163.94 552.6,164.88 553.0,165.54 553.4,165.61 553.8,165.13 554.2,165.19 554.6,165.42 555.0,164.93 555.4,165.61 555.8,166.28 556.2,166.10 556.6,164.93 557.0,164.86 557.4,164.80 557.8,165.74 558.2,165.80 558.6,165.08 559.0,164.96 559.4,163.59 559.8,164.69 560.2,166.25 560.6,167.20 561.0,166.38 561.4,164.80 561.8,165.33 562.2,165.80 562.6,166.10 563.0,166.01 563.4,166.18 563.8,165.63 564.2,164.24 564.6,165.23 565.0,165.10 565.4,166.11 565.8,165.11 566.2,164.22 566.6,163.78 567.0,164.27 567.4,165.04 567.8,165.73 568.2,164.85 568.6,163.91 569.0,163.13 569.4,163.32 569.8,164.75 570.2,164.73 570.6,164.97 571.0,164.47 571.4,162.97 571.8,164.43 572.2,165.61 572.6,165.90 573.0,164.93 573.4,164.32 573.8,164.06 574.2,164.44 574.6,165.14 575.0,165.31 575.4,164.94 575.8,164.03 576.2,162.81 576.6,162.88 577.0,163.03 577.4,163.18 577.8,161.64 578.2,161.40 578.6,160.14 579.0,161.58 579.4,162.58 579.8,164.32 580.2,164.22 580.6,163.88 581.0,163.07 581.4,163.80 581.8,164.40 582.2,165.48 582.6,164.05 583.0,163.69 583.4,163.09 583.8,163.19 584.2,164.13 584.6,164.31 585.0,164.20 585.4,163.73 585.8,162.11 586.2,162.71 586.6,162.72 587.0,162.04 587.4,159.70 587.8,157.28 588.2,153.85 588.6,150.83 589.0,147.64 589.4,143.14 589.8,138.98 590.2,136.07 590.6,134.81 591.0,136.11 591.4,138.85 591.8,142.81 592.2,146.41 592.6,149.94 593.0,152.43 593.4,154.42 593.8,155.99 594.2,156.67 594.6,155.08 595.0,153.02 595.4,150.53 595.8,147.56 596.2,145.22 596.6,143.15 597.0,141.15 597.4,141.40 597.8,142.65 598.2,145.66 598.6,149.61 599.0,153.25 599.4,156.04 599.8,158.23 600.2,159.78 600.6,161.73 601.0,163.29 601.4,164.74 601.8,163.93 602.2,163.48 602.6,162.51 603.0,163.49 603.4,164.02 603.8,165.35 604.2,164.71 604.6,163.68 605.0,163.96 605.4,164.53 605.8,165.73 606.2,165.96 606.6,165.59 607.0,164.80 607.4,163.49 607.8,164.38 608.2,165.32 608.6,165.72 609.0,166.94 609.4,165.23 609.8,163.91 610.2,164.46 610.6,165.65 611.0,166.01 611.4,164.78 611.8,163.98 612.2,163.98 612.6,164.39 613.0,165.34 613.4,165.72 613.8,165.59 614.2,163.79 614.6,164.13 615.0,164.44 615.4,165.27 615.8,166.90 616.2,164.81 616.6,164.64 617.0,163.67 617.4,165.08 617.8,164.88 618.2,166.50 618.6,166.32 619.0,165.79 619.4,165.39 619.8,165.63 620.2,165.37 620.6,165.94 621.0,164.50 621.4,164.80 621.8,164.05 622.2,163.68 622.6,165.41 623.0,165.59 623.4,164.74 623.8,164.71 624.2,164.84 624.6,165.25 625.0,165.47 625.4,166.71 625.8,165.34 626.2,164.23 626.6,163.01 627.0,164.28 627.4,165.09 627.8,165.06 628.2,164.93 628.6,164.49 629.0,164.18 629.4,164.48 629.8,166.47 630.2,166.56 630.6,166.33 631.0,165.25 631.4,165.37 631.8,164.69 632.2,163.58 632.6,164.03 633.0,162.05 633.4,159.93 633.8,158.29 634.2,156.81 634.6,155.97 635.0,154.93 635.4,153.18 635.8,153.11 636.2,153.42 636.6,154.25 637.0,157.21 637.4,159.19 637.8,160.39 638.2,161.49 638.6,161.64 639.0,162.55 639.4,163.96 639.8,164.49 640.2,164.48 640.6,163.01 641.0,163.25 641.4,164.77 641.8,164.32 642.2,165.01 642.6,164.28 643.0,163.52 643.4,163.43 643.8,163.72 644.2,163.49 644.6,163.45 645.0,162.39 645.4,160.30 645.8,158.41 646.2,157.61 646.6,156.05 647.0,154.24 647.4,152.89 647.8,151.70 648.2,151.42 648.6,152.50 649.0,154.66 649.4,156.52 649.8,158.04 650.2,159.08 650.6,160.57 651.0,161.91 651.4,163.32 651.8,164.78 652.2,165.23 652.6,164.30 653.0,162.84 653.4,164.04 653.8,164.71 654.2,165.08 654.6,164.48 655.0,165.06 655.4,164.16 655.8,164.88 656.2,165.28 656.6,166.07 657.0,165.45 657.4,164.86 657.8,164.28 658.2,164.57 658.6,165.33 659.0,166.28 659.4,165.39 659.8,165.30 660.2,164.19 660.6,165.38 661.0,165.04 661.4,166.25 661.8,166.23 662.2,165.65 662.6,164.66 663.0,166.05 663.4,166.26 663.8,167.17 664.2,166.41 664.6,165.05 665.0,165.20 665.4,165.73 665.8,166.43 666.2,166.37 666.6,166.49 667.0,165.40 667.4,164.70 667.8,165.61 668.2,166.85 668.6,167.25 669.0,166.90 669.4,165.41 669.8,164.34 670.2,164.46 670.6,164.80 671.0,165.39 671.4,165.29 671.8,165.35 672.2,164.86 672.6,164.38 673.0,165.88 673.4,166.76 673.8,165.71 674.2,165.65 674.6,164.78 675.0,165.82 675.4,166.52 675.8,167.00 676.2,166.29 676.6,165.27 677.0,164.78 677.4,163.93 677.8,165.93 678.2,166.69 678.6,165.13 679.0,165.00 679.4,164.72 679.8,164.91 680.2,165.63 680.6,166.61 681.0,166.33 681.4,164.89 681.8,164.98 682.2,165.66 682.6,165.43 683.0,166.53"/>
<polyline fill="none" stroke="#EDB120" stroke-width="1.25" stroke-linejoin="round" points="527.0,295.02 527.4,292.55 527.8,292.17 528.2,291.35 528.6,289.42 529.0,292.88 529.4,291.30 529.8,292.96 530.2,291.32 530.6,292.86 531.0,291.85 531.4,292.84 531.8,292.18 532.2,293.61 532.6,291.68 533.0,291.86 533.4,293.05 533.8,293.92 534.2,293.49 534.6,290.41 535.0,290.46 535.4,292.21 535.8,293.29 536.2,294.53 536.6,292.95 537.0,291.57 537.4,293.24 537.8,292.35 538.2,291.91 538.6,292.57 539.0,291.49 539.4,292.38 539.8,293.80 540.2,290.27 540.6,291.62 541.0,292.80 541.4,293.31 541.8,290.61 542.2,291.53 542.6,290.61 543.0,291.62 543.4,292.18 543.8,293.39 544.2,291.17 544.6,293.85 545.0,290.38 545.4,293.37 545.8,294.04 546.2,293.00 546.6,290.69 547.0,288.85 547.4,289.19 547.8,291.55 548.2,292.81 548.6,292.11 549.0,291.60 549.4,294.90 549.8,290.74 550.2,289.39 550.6,292.43 551.0,291.10 551.4,288.54 551.8,291.36 552.2,289.60 552.6,291.77 553.0,295.16 553.4,294.01 553.8,292.12 554.2,294.75 554.6,289.08 555.0,290.94 555.4,294.81 555.8,295.34 556.2,292.10 556.6,290.63 557.0,291.21 557.4,291.88 557.8,292.48 558.2,292.50 558.6,290.49 559.0,290.29 559.4,289.68 559.8,290.65 560.2,291.24 560.6,292.90 561.0,289.75 561.4,292.38 561.8,292.12 562.2,290.48 562.6,290.41 563.0,293.59 563.4,293.19 563.8,291.66 564.2,292.52 564.6,291.26 565.0,291.27 565.4,295.43 565.8,292.07 566.2,291.44 566.6,288.26 567.0,291.53 567.4,291.95 567.8,293.47 568.2,293.53 568.6,291.94 569.0,289.17 569.4,293.04 569.8,293.13 570.2,294.41 570.6,292.55 571.0,291.70 571.4,288.65 571.8,289.27 572.2,291.22 572.6,292.05 573.0,292.52 573.4,287.22 573.8,290.16 574.2,290.41 574.6,293.42 575.0,291.64 575.4,290.97 575.8,291.02 576.2,290.81 576.6,288.14 577.0,289.28 577.4,291.63 577.8,290.24 578.2,289.06 578.6,290.21 579.0,287.38 579.4,290.16 579.8,290.43 580.2,291.46 580.6,290.21 581.0,291.38 581.4,295.26 581.8,293.52 582.2,293.71 582.6,294.77 583.0,292.84 583.4,294.05 583.8,290.79 584.2,291.07 584.6,290.32 585.0,290.73 585.4,288.46 585.8,291.72 586.2,290.69 586.6,291.71 587.0,291.52 587.4,289.51 587.8,287.21 588.2,283.75 588.6,285.16 589.0,281.92 589.4,281.82 589.8,278.69 590.2,275.63 590.6,275.41 591.0,276.32 591.4,278.00 591.8,280.40 592.2,282.55 592.6,283.74 593.0,284.93 593.4,287.70 593.8,289.27 594.2,289.92 594.6,290.55 595.0,288.71 595.4,288.45 595.8,287.99 596.2,288.78 596.6,285.22 597.0,286.57 597.4,283.19 597.8,284.00 598.2,283.86 598.6,286.23 599.0,289.08 599.4,288.73 599.8,288.76 600.2,288.95 600.6,292.35 601.0,289.46 601.4,292.80 601.8,294.05 602.2,291.10 602.6,292.71 603.0,288.42 603.4,290.21 603.8,291.92 604.2,290.75 604.6,290.17 605.0,291.16 605.4,289.52 605.8,292.05 606.2,292.68 606.6,291.37 607.0,293.87 607.4,290.01 607.8,294.34 608.2,291.74 608.6,294.24 609.0,293.52 609.4,291.47 609.8,292.90 610.2,294.31 610.6,294.23 611.0,294.03 611.4,294.69 611.8,292.74 612.2,291.21 612.6,287.57 613.0,292.04 613.4,294.33 613.8,290.88 614.2,287.70 614.6,289.95 615.0,291.94 615.4,290.93 615.8,293.44 616.2,293.47 616.6,290.72 617.0,290.23 617.4,293.69 617.8,292.58 618.2,292.12 618.6,293.42 619.0,292.84 619.4,291.27 619.8,291.58 620.2,291.19 620.6,296.42 621.0,290.65 621.4,291.35 621.8,291.24 622.2,292.71 622.6,291.47 623.0,293.04 623.4,291.20 623.8,291.78 624.2,288.07 624.6,292.91 625.0,292.40 625.4,293.67 625.8,291.74 626.2,288.51 626.6,289.20 627.0,290.91 627.4,294.07 627.8,292.90 628.2,293.65 628.6,291.58 629.0,289.64 629.4,290.86 629.8,292.78 630.2,293.70 630.6,291.05 631.0,291.68 631.4,291.10 631.8,292.82 632.2,294.43 632.6,291.84 633.0,291.45 633.4,289.01 633.8,292.73 634.2,291.17 634.6,289.61 635.0,294.41 635.4,290.28 635.8,289.45 636.2,288.72 636.6,289.98 637.0,287.72 637.4,291.00 637.8,292.20 638.2,291.63 638.6,290.74 639.0,290.87 639.4,290.32 639.8,288.96 640.2,290.05 640.6,292.45 641.0,291.56 641.4,291.30 641.8,293.00 642.2,295.91 642.6,292.48 643.0,290.86 643.4,294.37 643.8,291.50 644.2,291.30 644.6,294.62 645.0,291.02 645.4,290.91 645.8,290.02 646.2,291.36 646.6,288.81 647.0,290.25 647.4,286.82 647.8,287.51 648.2,287.44 648.6,288.88 649.0,292.25 649.4,291.11 649.8,290.90 650.2,290.28 650.6,289.75 651.0,291.81 651.4,292.43 651.8,294.67 652.2,291.78 652.6,292.49 653.0,291.33 653.4,291.92 653.8,293.39 654.2,294.27 654.6,292.88 655.0,292.08 655.4,289.31 655.8,290.39 656.2,292.10 656.6,293.40 657.0,292.46 657.4,290.56 657.8,288.92 658.2,291.07 658.6,291.43 659.0,290.91 659.4,292.55 659.8,292.35 660.2,290.25 660.6,289.28 661.0,292.13 661.4,293.24 661.8,290.43 662.2,291.94 662.6,290.41 663.0,292.46 663.4,291.38 663.8,292.86 664.2,292.08 664.6,292.50 665.0,289.11 665.4,291.39 665.8,294.68 666.2,293.05 666.6,291.14 667.0,293.50 667.4,292.18 667.8,289.48 668.2,292.55 668.6,291.29 669.0,292.32 669.4,292.85 669.8,291.78 670.2,289.96 670.6,291.01 671.0,294.97 671.4,292.62 671.8,290.79 672.2,290.53 672.6,289.70 673.0,289.57 673.4,290.77 673.8,292.39 674.2,289.80 674.6,291.11 675.0,292.37 675.4,292.48 675.8,291.95 676.2,291.76 676.6,290.89 677.0,291.44 677.4,293.42 677.8,292.73 678.2,295.68 678.6,293.10 679.0,291.34 679.4,289.60 679.8,291.19 680.2,291.26 680.6,294.54 681.0,292.94 681.4,294.67 681.8,292.17 682.2,292.81 682.6,291.23 683.0,292.18"/>
<polyline fill="none" stroke="#D95319" stroke-width="1.25" stroke-linejoin="round" points="527.0,419.89 527.4,420.07 527.8,418.99 528.2,418.12 528.6,419.51 529.0,417.86 529.4,419.24 529.8,418.65 530.2,418.95 530.6,418.18 531.0,419.21 531.4,420.49 531.8,421.49 532.2,420.56 532.6,418.85 533.0,419.54 533.4,419.31 533.8,421.88 534.2,421.42 534.6,419.97 535.0,419.11 535.4,417.34 535.8,419.21 536.2,418.44 536.6,420.77 537.0,417.41 537.4,417.35 537.8,419.46 538.2,420.31 538.6,420.87 539.0,418.21 539.4,418.02 539.8,417.55 540.2,416.74 540.6,419.63 541.0,419.54 541.4,420.80 541.8,419.86 542.2,419.12 542.6,421.89 543.0,420.78 543.4,419.46 543.8,422.41 544.2,419.54 544.6,419.20 545.0,420.27 545.4,418.50 545.8,419.78 546.2,420.42 546.6,421.94 547.0,421.51 547.4,418.85 547.8,421.16 548.2,417.95 548.6,419.74 549.0,421.07 549.4,419.06 549.8,419.44 550.2,419.91 550.6,420.98 551.0,420.98 551.4,418.38 551.8,418.95 552.2,417.94 552.6,420.09 553.0,418.19 553.4,419.93 553.8,421.54 554.2,419.95 554.6,421.57 555.0,419.54 555.4,417.24 555.8,422.05 556.2,420.36 556.6,418.98 557.0,417.14 557.4,418.76 557.8,420.03 558.2,420.21 558.6,419.64 559.0,419.97 559.4,419.19 559.8,418.50 560.2,420.59 560.6,421.39 561.0,422.24 561.4,419.41 561.8,417.52 562.2,420.76 562.6,421.06 563.0,420.39 563.4,419.28 563.8,421.91 564.2,417.75 564.6,419.23 565.0,420.54 565.4,419.36 565.8,419.68 566.2,419.81 566.6,418.18 567.0,417.82 567.4,419.17 567.8,420.30 568.2,421.12 568.6,418.12 569.0,420.44 569.4,418.18 569.8,421.18 570.2,422.60 570.6,421.19 571.0,419.10 571.4,420.71 571.8,420.69 572.2,420.43 572.6,420.11 573.0,419.34 573.4,419.10 573.8,421.39 574.2,419.74 574.6,420.10 575.0,419.53 575.4,419.96 575.8,418.81 576.2,417.85 576.6,419.27 577.0,419.12 577.4,420.20 577.8,419.25 578.2,417.85 578.6,418.39 579.0,418.70 579.4,415.41 579.8,418.45 580.2,417.94 580.6,417.41 581.0,418.65 581.4,418.19 581.8,418.43 582.2,418.77 582.6,419.83 583.0,416.85 583.4,417.84 583.8,418.42 584.2,419.58 584.6,420.57 585.0,418.89 585.4,418.10 585.8,418.49 586.2,418.26 586.6,421.39 587.0,420.82 587.4,418.66 587.8,419.84 588.2,418.41 588.6,419.19 589.0,420.75 589.4,420.19 589.8,417.20 590.2,417.40 590.6,415.37 591.0,416.76 591.4,415.99 591.8,414.99 592.2,413.05 592.6,415.61 593.0,415.50 593.4,416.50 593.8,420.43 594.2,419.14 594.6,419.47 595.0,416.96 595.4,417.97 595.8,417.08 596.2,416.34 596.6,417.89 597.0,417.59 597.4,416.16 597.8,418.48 598.2,417.95 598.6,417.26 599.0,417.24 599.4,420.46 599.8,420.14 600.2,419.45 600.6,418.37 601.0,419.03 601.4,421.36 601.8,419.59 602.2,419.40 602.6,419.46 603.0,420.48 603.4,418.89 603.8,420.11 604.2,420.17 604.6,418.81 605.0,420.21 605.4,418.69 605.8,421.08 606.2,420.74 606.6,421.77 607.0,419.58 607.4,417.80 607.8,418.71 608.2,418.20 608.6,421.03 609.0,419.67 609.4,419.17 609.8,419.47 610.2,420.13 610.6,419.64 611.0,419.38 611.4,421.18 611.8,419.60 612.2,418.49 612.6,419.80 613.0,419.03 613.4,421.60 613.8,419.02 614.2,418.43 614.6,418.39 615.0,418.68 615.4,419.75 615.8,420.93 616.2,419.61 616.6,420.47 617.0,419.62 617.4,422.29 617.8,420.28 618.2,420.23 618.6,419.38 619.0,420.10 619.4,419.21 619.8,418.44 620.2,421.04 620.6,418.93 621.0,418.94 621.4,418.76 621.8,418.55 622.2,418.36 622.6,421.58 623.0,421.98 623.4,420.15 623.8,419.44 624.2,418.61 624.6,419.57 625.0,421.23 625.4,422.13 625.8,421.03 626.2,419.36 626.6,417.37 627.0,417.64 627.4,420.27 627.8,418.95 628.2,419.34 628.6,420.67 629.0,419.33 629.4,419.64 629.8,420.33 630.2,421.51 630.6,421.03 631.0,418.72 631.4,417.91 631.8,418.80 632.2,420.19 632.6,423.27 633.0,420.35 633.4,419.55 633.8,419.97 634.2,420.24 634.6,418.84 635.0,417.74 635.4,422.70 635.8,419.01 636.2,418.48 636.6,421.03 637.0,419.04 637.4,420.26 637.8,418.19 638.2,420.12 638.6,417.45 639.0,418.87 639.4,420.27 639.8,419.84 640.2,422.26 640.6,419.10 641.0,416.97 641.4,420.53 641.8,421.37 642.2,422.14 642.6,419.47 643.0,418.82 643.4,418.41 643.8,419.96 644.2,419.27 644.6,421.48 645.0,420.47 645.4,419.86 645.8,417.79 646.2,417.08 646.6,419.84 647.0,421.67 647.4,420.45 647.8,417.81 648.2,419.11 648.6,418.81 649.0,419.86 649.4,418.42 649.8,418.27 650.2,418.73 650.6,419.90 651.0,418.74 651.4,419.88 651.8,421.93 652.2,419.51 652.6,419.12 653.0,418.44 653.4,421.15 653.8,419.84 654.2,419.42 654.6,419.45 655.0,419.69 655.4,418.87 655.8,419.97 656.2,421.39 656.6,421.04 657.0,419.58 657.4,417.33 657.8,419.05 658.2,420.16 658.6,420.35 659.0,420.95 659.4,418.92 659.8,419.69 660.2,416.41 660.6,417.30 661.0,417.47 661.4,421.00 661.8,420.42 662.2,420.02 662.6,420.86 663.0,418.22 663.4,420.57 663.8,420.47 664.2,419.56 664.6,420.62 665.0,418.66 665.4,418.20 665.8,420.54 666.2,419.45 666.6,419.28 667.0,419.84 667.4,418.07 667.8,418.76 668.2,420.36 668.6,422.50 669.0,418.07 669.4,420.98 669.8,419.48 670.2,419.63 670.6,420.55 671.0,419.26 671.4,420.55 671.8,420.77 672.2,419.10 672.6,417.67 673.0,419.54 673.4,418.80 673.8,418.44 674.2,418.11 674.6,419.76 675.0,421.02 675.4,419.49 675.8,421.30 676.2,418.83 676.6,418.44 677.0,419.77 677.4,421.48 677.8,421.16 678.2,417.69 678.6,419.69 679.0,420.01 679.4,419.56 679.8,418.56 680.2,422.97 680.6,418.06 681.0,419.58 681.4,417.99 681.8,418.11 682.2,419.15 682.6,419.01 683.0,420.58"/>
<text x="138.40" y="37.30" font-size="13" text-anchor="end" fill="#1a1a1a" stroke="#1a1a1a">5V</text>
<text x="138.20" y="185.50" font-size="13" text-anchor="end" fill="#1a1a1a" stroke="#1a1a1a">10V</text>
<text x="138.70" y="315.30" font-size="13" text-anchor="end" fill="#1a1a1a" stroke="#1a1a1a">15V</text>
<text x="138.20" y="453.50" font-size="13" text-anchor="end" fill="#1a1a1a" stroke="#1a1a1a">20V</text>
<text x="314.00" y="37.30" font-size="13" text-anchor="end" fill="#1a1a1a" stroke="#1a1a1a">5V</text>
<text x="314.00" y="184.00" font-size="13" text-anchor="end" fill="#1a1a1a" stroke="#1a1a1a">10V</text>
<text x="312.60" y="316.60" font-size="13" text-anchor="end" fill="#1a1a1a" stroke="#1a1a1a">15V</text>
<text x="313.30" y="452.10" font-size="13" text-anchor="end" fill="#1a1a1a" stroke="#1a1a1a">20V</text>
<text x="488.30" y="37.30" font-size="13" text-anchor="end" fill="#1a1a1a" stroke="#1a1a1a">5V</text>
<text x="487.60" y="195.60" font-size="13" text-anchor="end" fill="#1a1a1a" stroke="#1a1a1a">10V</text>
<text x="488.30" y="329.50" font-size="13" text-anchor="end" fill="#1a1a1a" stroke="#1a1a1a">15V</text>
<text x="488.30" y="453.50" font-size="13" text-anchor="end" fill="#1a1a1a" stroke="#1a1a1a">20V</text>
<text x="663.30" y="37.30" font-size="13" text-anchor="end" fill="#1a1a1a" stroke="#1a1a1a">5V</text>
<text x="663.30" y="194.80" font-size="13" text-anchor="end" fill="#1a1a1a" stroke="#1a1a1a">10V</text>
<text x="663.30" y="330.20" font-size="13" text-anchor="end" fill="#1a1a1a" stroke="#1a1a1a">15V</text>
<text x="662.60" y="451.00" font-size="13" text-anchor="end" fill="#1a1a1a" stroke="#1a1a1a">20V</text>
<text x="610" y="494.6" font-size="13" text-anchor="middle" fill="#1a1a1a" stroke="#1a1a1a">Not shown</text>
<text x="610" y="511.3" font-size="13" text-anchor="middle" fill="#1a1a1a" stroke="#1a1a1a">(No signal)</text>
</svg></body></html>
